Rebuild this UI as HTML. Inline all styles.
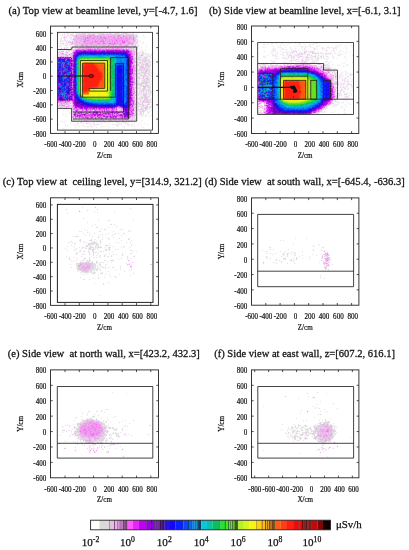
<!DOCTYPE html><html><head><meta charset="utf-8"><title>figure</title><style>html,body{margin:0;padding:0;background:#fff}svg{display:block}</style></head><body><svg width="409" height="550" viewBox="0 0 409 550" font-family="Liberation Serif, serif" fill="#111">
<defs>
<filter id="b04" x="-30%" y="-30%" width="160%" height="160%" color-interpolation-filters="sRGB"><feGaussianBlur stdDeviation="0.4"/></filter>
<filter id="b07" x="-30%" y="-30%" width="160%" height="160%" color-interpolation-filters="sRGB"><feGaussianBlur stdDeviation="0.85"/></filter>
<filter id="b1" x="-30%" y="-30%" width="160%" height="160%" color-interpolation-filters="sRGB"><feGaussianBlur stdDeviation="1.0"/></filter>
<filter id="b15" x="-30%" y="-30%" width="160%" height="160%" color-interpolation-filters="sRGB"><feGaussianBlur stdDeviation="1.5"/></filter>
<filter id="b2" x="-30%" y="-30%" width="160%" height="160%" color-interpolation-filters="sRGB"><feGaussianBlur stdDeviation="2.0"/></filter>
<filter id="b3" x="-30%" y="-30%" width="160%" height="160%" color-interpolation-filters="sRGB"><feGaussianBlur stdDeviation="3.0"/></filter>
<filter id="ha" filterUnits="userSpaceOnUse" x="50" y="26" width="109" height="108" color-interpolation-filters="sRGB"><feColorMatrix in="SourceGraphic" type="matrix" values="1 0 0 0 0  1 0 0 0 0  1 0 0 0 0  0 0 0 0 1" result="A"/><feColorMatrix in="SourceGraphic" type="matrix" values="0 1 0 0 0  0 1 0 0 0  0 1 0 0 0  0 0 0 0 1" result="M"/><feTurbulence type="fractalNoise" baseFrequency="0.9" numOctaves="3" seed="3" result="T"/><feColorMatrix in="T" type="matrix" values="2.2 0 0 0 -0.6  2.2 0 0 0 -0.6  2.2 0 0 0 -0.6  0 0 0 0 1" result="N"/><feComposite in="M" in2="N" operator="arithmetic" k1="1" k2="0" k3="0" k4="0" result="Q"/><feComposite in="A" in2="Q" operator="arithmetic" k1="0" k2="1" k3="1" k4="-0.15" result="F"/><feComponentTransfer in="F" result="C"><feFuncR type="discrete" tableValues="1.000 1.000 1.000 1.000 1.000 0.863 0.863 0.863 0.863 0.863 0.902 0.902 0.902 0.925 0.925 0.925 0.933 0.933 0.933 0.933 1.000 1.000 1.000 0.933 0.933 0.933 0.769 0.769 0.769 0.769 0.604 0.604 0.604 0.478 0.478 0.478 0.353 0.353 0.353 0.353 0.165 0.165 0.165 0.078 0.078 0.078 0.039 0.039 0.039 0.039 0.039 0.039 0.039 0.031 0.031 0.031 0.031 0.031 0.031 0.031 0.031 0.031 0.031 0.024 0.024 0.024 0.031 0.031 0.031 0.031 0.157 0.157 0.157 0.345 0.345 0.345 0.502 0.502 0.502 0.502 0.722 0.722 0.722 0.847 0.847 0.847 0.973 0.973 0.973 0.973 1.000 1.000 1.000 0.973 0.973 0.973 0.878 0.878 0.878 0.878 1.000 1.000 1.000 1.000 1.000 1.000 1.000 1.000 1.000 1.000 0.941 0.941 0.941 0.784 0.784 0.784 0.565 0.565 0.565 0.565 0.439 0.439 0.439 0.251 0.251 0.251 0.063 0.063 0.063 0.063"/><feFuncG type="discrete" tableValues="1.000 1.000 1.000 1.000 1.000 0.863 0.863 0.863 0.863 0.863 0.796 0.796 0.796 0.706 0.706 0.706 0.612 0.612 0.612 0.612 0.345 0.345 0.345 0.133 0.133 0.133 0.000 0.000 0.000 0.000 0.000 0.000 0.000 0.000 0.000 0.000 0.000 0.000 0.000 0.000 0.063 0.063 0.063 0.031 0.031 0.031 0.125 0.125 0.125 0.125 0.282 0.282 0.282 0.471 0.471 0.471 0.627 0.627 0.627 0.627 0.784 0.784 0.784 0.753 0.753 0.753 0.753 0.753 0.753 0.753 0.878 0.878 0.878 0.910 0.910 0.910 0.847 0.847 0.847 0.847 0.941 0.941 0.941 0.957 0.957 0.957 0.957 0.957 0.957 0.957 0.816 0.816 0.816 0.659 0.659 0.659 0.533 0.533 0.533 0.533 0.353 0.353 0.353 0.251 0.251 0.251 0.125 0.125 0.125 0.125 0.031 0.031 0.031 0.031 0.031 0.031 0.031 0.031 0.031 0.031 0.024 0.024 0.024 0.016 0.016 0.016 0.000 0.000 0.000 0.000"/><feFuncB type="discrete" tableValues="1.000 1.000 1.000 1.000 1.000 0.863 0.863 0.863 0.863 0.863 0.902 0.902 0.902 0.925 0.925 0.925 0.933 0.933 0.933 0.933 1.000 1.000 1.000 0.965 0.965 0.965 0.957 0.957 0.957 0.957 0.910 0.910 0.910 0.784 0.784 0.784 0.627 0.627 0.627 0.627 0.878 0.878 0.878 0.957 0.957 0.957 1.000 1.000 1.000 1.000 0.941 0.941 0.941 0.973 0.973 0.973 0.910 0.910 0.910 0.910 0.847 0.847 0.847 0.690 0.690 0.690 0.376 0.376 0.376 0.376 0.188 0.188 0.188 0.125 0.125 0.125 0.125 0.125 0.125 0.125 0.157 0.157 0.157 0.125 0.125 0.125 0.094 0.094 0.094 0.094 0.063 0.063 0.063 0.063 0.063 0.063 0.063 0.063 0.063 0.063 0.063 0.063 0.063 0.063 0.063 0.063 0.063 0.063 0.063 0.063 0.031 0.031 0.031 0.031 0.031 0.031 0.031 0.031 0.031 0.031 0.024 0.024 0.024 0.016 0.016 0.016 0.000 0.000 0.000 0.000"/></feComponentTransfer><feConvolveMatrix in="C" order="3" kernelMatrix="0.019 0.1 0.019 0.1 0.524 0.1 0.019 0.1 0.019" edgeMode="duplicate" preserveAlpha="true"/></filter>
<filter id="hb" filterUnits="userSpaceOnUse" x="251" y="26" width="108" height="107" color-interpolation-filters="sRGB"><feColorMatrix in="SourceGraphic" type="matrix" values="1 0 0 0 0  1 0 0 0 0  1 0 0 0 0  0 0 0 0 1" result="A"/><feColorMatrix in="SourceGraphic" type="matrix" values="0 1 0 0 0  0 1 0 0 0  0 1 0 0 0  0 0 0 0 1" result="M"/><feTurbulence type="fractalNoise" baseFrequency="0.9" numOctaves="3" seed="5" result="T"/><feColorMatrix in="T" type="matrix" values="2.2 0 0 0 -0.6  2.2 0 0 0 -0.6  2.2 0 0 0 -0.6  0 0 0 0 1" result="N"/><feComposite in="M" in2="N" operator="arithmetic" k1="1" k2="0" k3="0" k4="0" result="Q"/><feComposite in="A" in2="Q" operator="arithmetic" k1="0" k2="1" k3="1" k4="-0.15" result="F"/><feComponentTransfer in="F" result="C"><feFuncR type="discrete" tableValues="1.000 1.000 1.000 1.000 1.000 0.863 0.863 0.863 0.863 0.863 0.902 0.902 0.902 0.925 0.925 0.925 0.933 0.933 0.933 0.933 1.000 1.000 1.000 0.933 0.933 0.933 0.769 0.769 0.769 0.769 0.604 0.604 0.604 0.478 0.478 0.478 0.353 0.353 0.353 0.353 0.165 0.165 0.165 0.078 0.078 0.078 0.039 0.039 0.039 0.039 0.039 0.039 0.039 0.031 0.031 0.031 0.031 0.031 0.031 0.031 0.031 0.031 0.031 0.024 0.024 0.024 0.031 0.031 0.031 0.031 0.157 0.157 0.157 0.345 0.345 0.345 0.502 0.502 0.502 0.502 0.722 0.722 0.722 0.847 0.847 0.847 0.973 0.973 0.973 0.973 1.000 1.000 1.000 0.973 0.973 0.973 0.878 0.878 0.878 0.878 1.000 1.000 1.000 1.000 1.000 1.000 1.000 1.000 1.000 1.000 0.941 0.941 0.941 0.784 0.784 0.784 0.565 0.565 0.565 0.565 0.439 0.439 0.439 0.251 0.251 0.251 0.063 0.063 0.063 0.063"/><feFuncG type="discrete" tableValues="1.000 1.000 1.000 1.000 1.000 0.863 0.863 0.863 0.863 0.863 0.796 0.796 0.796 0.706 0.706 0.706 0.612 0.612 0.612 0.612 0.345 0.345 0.345 0.133 0.133 0.133 0.000 0.000 0.000 0.000 0.000 0.000 0.000 0.000 0.000 0.000 0.000 0.000 0.000 0.000 0.063 0.063 0.063 0.031 0.031 0.031 0.125 0.125 0.125 0.125 0.282 0.282 0.282 0.471 0.471 0.471 0.627 0.627 0.627 0.627 0.784 0.784 0.784 0.753 0.753 0.753 0.753 0.753 0.753 0.753 0.878 0.878 0.878 0.910 0.910 0.910 0.847 0.847 0.847 0.847 0.941 0.941 0.941 0.957 0.957 0.957 0.957 0.957 0.957 0.957 0.816 0.816 0.816 0.659 0.659 0.659 0.533 0.533 0.533 0.533 0.353 0.353 0.353 0.251 0.251 0.251 0.125 0.125 0.125 0.125 0.031 0.031 0.031 0.031 0.031 0.031 0.031 0.031 0.031 0.031 0.024 0.024 0.024 0.016 0.016 0.016 0.000 0.000 0.000 0.000"/><feFuncB type="discrete" tableValues="1.000 1.000 1.000 1.000 1.000 0.863 0.863 0.863 0.863 0.863 0.902 0.902 0.902 0.925 0.925 0.925 0.933 0.933 0.933 0.933 1.000 1.000 1.000 0.965 0.965 0.965 0.957 0.957 0.957 0.957 0.910 0.910 0.910 0.784 0.784 0.784 0.627 0.627 0.627 0.627 0.878 0.878 0.878 0.957 0.957 0.957 1.000 1.000 1.000 1.000 0.941 0.941 0.941 0.973 0.973 0.973 0.910 0.910 0.910 0.910 0.847 0.847 0.847 0.690 0.690 0.690 0.376 0.376 0.376 0.376 0.188 0.188 0.188 0.125 0.125 0.125 0.125 0.125 0.125 0.125 0.157 0.157 0.157 0.125 0.125 0.125 0.094 0.094 0.094 0.094 0.063 0.063 0.063 0.063 0.063 0.063 0.063 0.063 0.063 0.063 0.063 0.063 0.063 0.063 0.063 0.063 0.063 0.063 0.063 0.063 0.031 0.031 0.031 0.031 0.031 0.031 0.031 0.031 0.031 0.031 0.024 0.024 0.024 0.016 0.016 0.016 0.000 0.000 0.000 0.000"/></feComponentTransfer><feConvolveMatrix in="C" order="3" kernelMatrix="0.019 0.1 0.019 0.1 0.524 0.1 0.019 0.1 0.019" edgeMode="duplicate" preserveAlpha="true"/></filter>
<filter id="sc" filterUnits="userSpaceOnUse" x="50" y="198" width="109" height="108" color-interpolation-filters="sRGB"><feColorMatrix in="SourceGraphic" type="matrix" values="1 0 0 0 0  1 0 0 0 0  1 0 0 0 0  0 0 0 0 1" result="A"/><feColorMatrix in="SourceGraphic" type="matrix" values="0 1 0 0 0  0 1 0 0 0  0 1 0 0 0  0 0 0 0 1" result="M"/><feTurbulence type="fractalNoise" baseFrequency="0.55" numOctaves="2" seed="11" result="T"/><feColorMatrix in="T" type="matrix" values="3.0 0 0 0 -1.2  3.0 0 0 0 -1.2  3.0 0 0 0 -1.2  0 0 0 0 1" result="N"/><feComposite in="M" in2="N" operator="arithmetic" k1="1" k2="0" k3="0" k4="0" result="Q"/><feComposite in="A" in2="Q" operator="arithmetic" k1="0" k2="1" k3="1" k4="-0.15" result="F"/><feComponentTransfer in="F" result="C"><feFuncR type="discrete" tableValues="1.000 1.000 1.000 1.000 1.000 0.863 0.863 0.863 0.863 0.863 0.902 0.902 0.902 0.925 0.925 0.925 0.933 0.933 0.933 0.933 1.000 1.000 1.000 0.933 0.933 0.933 0.769 0.769 0.769 0.769 0.604 0.604 0.604 0.478 0.478 0.478 0.353 0.353 0.353 0.353 0.165 0.165 0.165 0.078 0.078 0.078 0.039 0.039 0.039 0.039 0.039 0.039 0.039 0.031 0.031 0.031 0.031 0.031 0.031 0.031 0.031 0.031 0.031 0.024 0.024 0.024 0.031 0.031 0.031 0.031 0.157 0.157 0.157 0.345 0.345 0.345 0.502 0.502 0.502 0.502 0.722 0.722 0.722 0.847 0.847 0.847 0.973 0.973 0.973 0.973 1.000 1.000 1.000 0.973 0.973 0.973 0.878 0.878 0.878 0.878 1.000 1.000 1.000 1.000 1.000 1.000 1.000 1.000 1.000 1.000 0.941 0.941 0.941 0.784 0.784 0.784 0.565 0.565 0.565 0.565 0.439 0.439 0.439 0.251 0.251 0.251 0.063 0.063 0.063 0.063"/><feFuncG type="discrete" tableValues="1.000 1.000 1.000 1.000 1.000 0.863 0.863 0.863 0.863 0.863 0.796 0.796 0.796 0.706 0.706 0.706 0.612 0.612 0.612 0.612 0.345 0.345 0.345 0.133 0.133 0.133 0.000 0.000 0.000 0.000 0.000 0.000 0.000 0.000 0.000 0.000 0.000 0.000 0.000 0.000 0.063 0.063 0.063 0.031 0.031 0.031 0.125 0.125 0.125 0.125 0.282 0.282 0.282 0.471 0.471 0.471 0.627 0.627 0.627 0.627 0.784 0.784 0.784 0.753 0.753 0.753 0.753 0.753 0.753 0.753 0.878 0.878 0.878 0.910 0.910 0.910 0.847 0.847 0.847 0.847 0.941 0.941 0.941 0.957 0.957 0.957 0.957 0.957 0.957 0.957 0.816 0.816 0.816 0.659 0.659 0.659 0.533 0.533 0.533 0.533 0.353 0.353 0.353 0.251 0.251 0.251 0.125 0.125 0.125 0.125 0.031 0.031 0.031 0.031 0.031 0.031 0.031 0.031 0.031 0.031 0.024 0.024 0.024 0.016 0.016 0.016 0.000 0.000 0.000 0.000"/><feFuncB type="discrete" tableValues="1.000 1.000 1.000 1.000 1.000 0.863 0.863 0.863 0.863 0.863 0.902 0.902 0.902 0.925 0.925 0.925 0.933 0.933 0.933 0.933 1.000 1.000 1.000 0.965 0.965 0.965 0.957 0.957 0.957 0.957 0.910 0.910 0.910 0.784 0.784 0.784 0.627 0.627 0.627 0.627 0.878 0.878 0.878 0.957 0.957 0.957 1.000 1.000 1.000 1.000 0.941 0.941 0.941 0.973 0.973 0.973 0.910 0.910 0.910 0.910 0.847 0.847 0.847 0.690 0.690 0.690 0.376 0.376 0.376 0.376 0.188 0.188 0.188 0.125 0.125 0.125 0.125 0.125 0.125 0.125 0.157 0.157 0.157 0.125 0.125 0.125 0.094 0.094 0.094 0.094 0.063 0.063 0.063 0.063 0.063 0.063 0.063 0.063 0.063 0.063 0.063 0.063 0.063 0.063 0.063 0.063 0.063 0.063 0.063 0.063 0.031 0.031 0.031 0.031 0.031 0.031 0.031 0.031 0.031 0.031 0.024 0.024 0.024 0.016 0.016 0.016 0.000 0.000 0.000 0.000"/></feComponentTransfer><feConvolveMatrix in="C" order="3" kernelMatrix="0.012 0.07 0.012 0.07 0.672 0.07 0.012 0.07 0.012" edgeMode="duplicate" preserveAlpha="true"/></filter>
<filter id="sd" filterUnits="userSpaceOnUse" x="251" y="198" width="108" height="108" color-interpolation-filters="sRGB"><feColorMatrix in="SourceGraphic" type="matrix" values="1 0 0 0 0  1 0 0 0 0  1 0 0 0 0  0 0 0 0 1" result="A"/><feColorMatrix in="SourceGraphic" type="matrix" values="0 1 0 0 0  0 1 0 0 0  0 1 0 0 0  0 0 0 0 1" result="M"/><feTurbulence type="fractalNoise" baseFrequency="0.55" numOctaves="2" seed="12" result="T"/><feColorMatrix in="T" type="matrix" values="3.0 0 0 0 -1.2  3.0 0 0 0 -1.2  3.0 0 0 0 -1.2  0 0 0 0 1" result="N"/><feComposite in="M" in2="N" operator="arithmetic" k1="1" k2="0" k3="0" k4="0" result="Q"/><feComposite in="A" in2="Q" operator="arithmetic" k1="0" k2="1" k3="1" k4="-0.15" result="F"/><feComponentTransfer in="F" result="C"><feFuncR type="discrete" tableValues="1.000 1.000 1.000 1.000 1.000 0.863 0.863 0.863 0.863 0.863 0.902 0.902 0.902 0.925 0.925 0.925 0.933 0.933 0.933 0.933 1.000 1.000 1.000 0.933 0.933 0.933 0.769 0.769 0.769 0.769 0.604 0.604 0.604 0.478 0.478 0.478 0.353 0.353 0.353 0.353 0.165 0.165 0.165 0.078 0.078 0.078 0.039 0.039 0.039 0.039 0.039 0.039 0.039 0.031 0.031 0.031 0.031 0.031 0.031 0.031 0.031 0.031 0.031 0.024 0.024 0.024 0.031 0.031 0.031 0.031 0.157 0.157 0.157 0.345 0.345 0.345 0.502 0.502 0.502 0.502 0.722 0.722 0.722 0.847 0.847 0.847 0.973 0.973 0.973 0.973 1.000 1.000 1.000 0.973 0.973 0.973 0.878 0.878 0.878 0.878 1.000 1.000 1.000 1.000 1.000 1.000 1.000 1.000 1.000 1.000 0.941 0.941 0.941 0.784 0.784 0.784 0.565 0.565 0.565 0.565 0.439 0.439 0.439 0.251 0.251 0.251 0.063 0.063 0.063 0.063"/><feFuncG type="discrete" tableValues="1.000 1.000 1.000 1.000 1.000 0.863 0.863 0.863 0.863 0.863 0.796 0.796 0.796 0.706 0.706 0.706 0.612 0.612 0.612 0.612 0.345 0.345 0.345 0.133 0.133 0.133 0.000 0.000 0.000 0.000 0.000 0.000 0.000 0.000 0.000 0.000 0.000 0.000 0.000 0.000 0.063 0.063 0.063 0.031 0.031 0.031 0.125 0.125 0.125 0.125 0.282 0.282 0.282 0.471 0.471 0.471 0.627 0.627 0.627 0.627 0.784 0.784 0.784 0.753 0.753 0.753 0.753 0.753 0.753 0.753 0.878 0.878 0.878 0.910 0.910 0.910 0.847 0.847 0.847 0.847 0.941 0.941 0.941 0.957 0.957 0.957 0.957 0.957 0.957 0.957 0.816 0.816 0.816 0.659 0.659 0.659 0.533 0.533 0.533 0.533 0.353 0.353 0.353 0.251 0.251 0.251 0.125 0.125 0.125 0.125 0.031 0.031 0.031 0.031 0.031 0.031 0.031 0.031 0.031 0.031 0.024 0.024 0.024 0.016 0.016 0.016 0.000 0.000 0.000 0.000"/><feFuncB type="discrete" tableValues="1.000 1.000 1.000 1.000 1.000 0.863 0.863 0.863 0.863 0.863 0.902 0.902 0.902 0.925 0.925 0.925 0.933 0.933 0.933 0.933 1.000 1.000 1.000 0.965 0.965 0.965 0.957 0.957 0.957 0.957 0.910 0.910 0.910 0.784 0.784 0.784 0.627 0.627 0.627 0.627 0.878 0.878 0.878 0.957 0.957 0.957 1.000 1.000 1.000 1.000 0.941 0.941 0.941 0.973 0.973 0.973 0.910 0.910 0.910 0.910 0.847 0.847 0.847 0.690 0.690 0.690 0.376 0.376 0.376 0.376 0.188 0.188 0.188 0.125 0.125 0.125 0.125 0.125 0.125 0.125 0.157 0.157 0.157 0.125 0.125 0.125 0.094 0.094 0.094 0.094 0.063 0.063 0.063 0.063 0.063 0.063 0.063 0.063 0.063 0.063 0.063 0.063 0.063 0.063 0.063 0.063 0.063 0.063 0.063 0.063 0.031 0.031 0.031 0.031 0.031 0.031 0.031 0.031 0.031 0.031 0.024 0.024 0.024 0.016 0.016 0.016 0.000 0.000 0.000 0.000"/></feComponentTransfer><feConvolveMatrix in="C" order="3" kernelMatrix="0.012 0.07 0.012 0.07 0.672 0.07 0.012 0.07 0.012" edgeMode="duplicate" preserveAlpha="true"/></filter>
<filter id="se" filterUnits="userSpaceOnUse" x="50" y="369" width="109" height="110" color-interpolation-filters="sRGB"><feColorMatrix in="SourceGraphic" type="matrix" values="1 0 0 0 0  1 0 0 0 0  1 0 0 0 0  0 0 0 0 1" result="A"/><feColorMatrix in="SourceGraphic" type="matrix" values="0 1 0 0 0  0 1 0 0 0  0 1 0 0 0  0 0 0 0 1" result="M"/><feTurbulence type="fractalNoise" baseFrequency="0.55" numOctaves="2" seed="13" result="T"/><feColorMatrix in="T" type="matrix" values="3.0 0 0 0 -1.2  3.0 0 0 0 -1.2  3.0 0 0 0 -1.2  0 0 0 0 1" result="N"/><feComposite in="M" in2="N" operator="arithmetic" k1="1" k2="0" k3="0" k4="0" result="Q"/><feComposite in="A" in2="Q" operator="arithmetic" k1="0" k2="1" k3="1" k4="-0.15" result="F"/><feComponentTransfer in="F" result="C"><feFuncR type="discrete" tableValues="1.000 1.000 1.000 1.000 1.000 0.863 0.863 0.863 0.863 0.863 0.902 0.902 0.902 0.925 0.925 0.925 0.933 0.933 0.933 0.933 1.000 1.000 1.000 0.933 0.933 0.933 0.769 0.769 0.769 0.769 0.604 0.604 0.604 0.478 0.478 0.478 0.353 0.353 0.353 0.353 0.165 0.165 0.165 0.078 0.078 0.078 0.039 0.039 0.039 0.039 0.039 0.039 0.039 0.031 0.031 0.031 0.031 0.031 0.031 0.031 0.031 0.031 0.031 0.024 0.024 0.024 0.031 0.031 0.031 0.031 0.157 0.157 0.157 0.345 0.345 0.345 0.502 0.502 0.502 0.502 0.722 0.722 0.722 0.847 0.847 0.847 0.973 0.973 0.973 0.973 1.000 1.000 1.000 0.973 0.973 0.973 0.878 0.878 0.878 0.878 1.000 1.000 1.000 1.000 1.000 1.000 1.000 1.000 1.000 1.000 0.941 0.941 0.941 0.784 0.784 0.784 0.565 0.565 0.565 0.565 0.439 0.439 0.439 0.251 0.251 0.251 0.063 0.063 0.063 0.063"/><feFuncG type="discrete" tableValues="1.000 1.000 1.000 1.000 1.000 0.863 0.863 0.863 0.863 0.863 0.796 0.796 0.796 0.706 0.706 0.706 0.612 0.612 0.612 0.612 0.345 0.345 0.345 0.133 0.133 0.133 0.000 0.000 0.000 0.000 0.000 0.000 0.000 0.000 0.000 0.000 0.000 0.000 0.000 0.000 0.063 0.063 0.063 0.031 0.031 0.031 0.125 0.125 0.125 0.125 0.282 0.282 0.282 0.471 0.471 0.471 0.627 0.627 0.627 0.627 0.784 0.784 0.784 0.753 0.753 0.753 0.753 0.753 0.753 0.753 0.878 0.878 0.878 0.910 0.910 0.910 0.847 0.847 0.847 0.847 0.941 0.941 0.941 0.957 0.957 0.957 0.957 0.957 0.957 0.957 0.816 0.816 0.816 0.659 0.659 0.659 0.533 0.533 0.533 0.533 0.353 0.353 0.353 0.251 0.251 0.251 0.125 0.125 0.125 0.125 0.031 0.031 0.031 0.031 0.031 0.031 0.031 0.031 0.031 0.031 0.024 0.024 0.024 0.016 0.016 0.016 0.000 0.000 0.000 0.000"/><feFuncB type="discrete" tableValues="1.000 1.000 1.000 1.000 1.000 0.863 0.863 0.863 0.863 0.863 0.902 0.902 0.902 0.925 0.925 0.925 0.933 0.933 0.933 0.933 1.000 1.000 1.000 0.965 0.965 0.965 0.957 0.957 0.957 0.957 0.910 0.910 0.910 0.784 0.784 0.784 0.627 0.627 0.627 0.627 0.878 0.878 0.878 0.957 0.957 0.957 1.000 1.000 1.000 1.000 0.941 0.941 0.941 0.973 0.973 0.973 0.910 0.910 0.910 0.910 0.847 0.847 0.847 0.690 0.690 0.690 0.376 0.376 0.376 0.376 0.188 0.188 0.188 0.125 0.125 0.125 0.125 0.125 0.125 0.125 0.157 0.157 0.157 0.125 0.125 0.125 0.094 0.094 0.094 0.094 0.063 0.063 0.063 0.063 0.063 0.063 0.063 0.063 0.063 0.063 0.063 0.063 0.063 0.063 0.063 0.063 0.063 0.063 0.063 0.063 0.031 0.031 0.031 0.031 0.031 0.031 0.031 0.031 0.031 0.031 0.024 0.024 0.024 0.016 0.016 0.016 0.000 0.000 0.000 0.000"/></feComponentTransfer><feConvolveMatrix in="C" order="3" kernelMatrix="0.012 0.07 0.012 0.07 0.672 0.07 0.012 0.07 0.012" edgeMode="duplicate" preserveAlpha="true"/></filter>
<filter id="sf" filterUnits="userSpaceOnUse" x="251" y="369" width="108" height="110" color-interpolation-filters="sRGB"><feColorMatrix in="SourceGraphic" type="matrix" values="1 0 0 0 0  1 0 0 0 0  1 0 0 0 0  0 0 0 0 1" result="A"/><feColorMatrix in="SourceGraphic" type="matrix" values="0 1 0 0 0  0 1 0 0 0  0 1 0 0 0  0 0 0 0 1" result="M"/><feTurbulence type="fractalNoise" baseFrequency="0.55" numOctaves="2" seed="14" result="T"/><feColorMatrix in="T" type="matrix" values="3.0 0 0 0 -1.2  3.0 0 0 0 -1.2  3.0 0 0 0 -1.2  0 0 0 0 1" result="N"/><feComposite in="M" in2="N" operator="arithmetic" k1="1" k2="0" k3="0" k4="0" result="Q"/><feComposite in="A" in2="Q" operator="arithmetic" k1="0" k2="1" k3="1" k4="-0.15" result="F"/><feComponentTransfer in="F" result="C"><feFuncR type="discrete" tableValues="1.000 1.000 1.000 1.000 1.000 0.863 0.863 0.863 0.863 0.863 0.902 0.902 0.902 0.925 0.925 0.925 0.933 0.933 0.933 0.933 1.000 1.000 1.000 0.933 0.933 0.933 0.769 0.769 0.769 0.769 0.604 0.604 0.604 0.478 0.478 0.478 0.353 0.353 0.353 0.353 0.165 0.165 0.165 0.078 0.078 0.078 0.039 0.039 0.039 0.039 0.039 0.039 0.039 0.031 0.031 0.031 0.031 0.031 0.031 0.031 0.031 0.031 0.031 0.024 0.024 0.024 0.031 0.031 0.031 0.031 0.157 0.157 0.157 0.345 0.345 0.345 0.502 0.502 0.502 0.502 0.722 0.722 0.722 0.847 0.847 0.847 0.973 0.973 0.973 0.973 1.000 1.000 1.000 0.973 0.973 0.973 0.878 0.878 0.878 0.878 1.000 1.000 1.000 1.000 1.000 1.000 1.000 1.000 1.000 1.000 0.941 0.941 0.941 0.784 0.784 0.784 0.565 0.565 0.565 0.565 0.439 0.439 0.439 0.251 0.251 0.251 0.063 0.063 0.063 0.063"/><feFuncG type="discrete" tableValues="1.000 1.000 1.000 1.000 1.000 0.863 0.863 0.863 0.863 0.863 0.796 0.796 0.796 0.706 0.706 0.706 0.612 0.612 0.612 0.612 0.345 0.345 0.345 0.133 0.133 0.133 0.000 0.000 0.000 0.000 0.000 0.000 0.000 0.000 0.000 0.000 0.000 0.000 0.000 0.000 0.063 0.063 0.063 0.031 0.031 0.031 0.125 0.125 0.125 0.125 0.282 0.282 0.282 0.471 0.471 0.471 0.627 0.627 0.627 0.627 0.784 0.784 0.784 0.753 0.753 0.753 0.753 0.753 0.753 0.753 0.878 0.878 0.878 0.910 0.910 0.910 0.847 0.847 0.847 0.847 0.941 0.941 0.941 0.957 0.957 0.957 0.957 0.957 0.957 0.957 0.816 0.816 0.816 0.659 0.659 0.659 0.533 0.533 0.533 0.533 0.353 0.353 0.353 0.251 0.251 0.251 0.125 0.125 0.125 0.125 0.031 0.031 0.031 0.031 0.031 0.031 0.031 0.031 0.031 0.031 0.024 0.024 0.024 0.016 0.016 0.016 0.000 0.000 0.000 0.000"/><feFuncB type="discrete" tableValues="1.000 1.000 1.000 1.000 1.000 0.863 0.863 0.863 0.863 0.863 0.902 0.902 0.902 0.925 0.925 0.925 0.933 0.933 0.933 0.933 1.000 1.000 1.000 0.965 0.965 0.965 0.957 0.957 0.957 0.957 0.910 0.910 0.910 0.784 0.784 0.784 0.627 0.627 0.627 0.627 0.878 0.878 0.878 0.957 0.957 0.957 1.000 1.000 1.000 1.000 0.941 0.941 0.941 0.973 0.973 0.973 0.910 0.910 0.910 0.910 0.847 0.847 0.847 0.690 0.690 0.690 0.376 0.376 0.376 0.376 0.188 0.188 0.188 0.125 0.125 0.125 0.125 0.125 0.125 0.125 0.157 0.157 0.157 0.125 0.125 0.125 0.094 0.094 0.094 0.094 0.063 0.063 0.063 0.063 0.063 0.063 0.063 0.063 0.063 0.063 0.063 0.063 0.063 0.063 0.063 0.063 0.063 0.063 0.063 0.063 0.031 0.031 0.031 0.031 0.031 0.031 0.031 0.031 0.031 0.031 0.024 0.024 0.024 0.016 0.016 0.016 0.000 0.000 0.000 0.000"/></feComponentTransfer><feConvolveMatrix in="C" order="3" kernelMatrix="0.012 0.07 0.012 0.07 0.672 0.07 0.012 0.07 0.012" edgeMode="duplicate" preserveAlpha="true"/></filter>
</defs>
<rect width="409" height="550" fill="#fff"/>
<text x="8.5" y="14.0" font-size="11.3" textLength="189.0" lengthAdjust="spacingAndGlyphs" xml:space="preserve" stroke="#111" stroke-width="0.28">(a) Top view at beamline level, y=[-4.7, 1.6]</text>
<text x="209.0" y="14.0" font-size="11.3" textLength="191.5" lengthAdjust="spacingAndGlyphs" xml:space="preserve" stroke="#111" stroke-width="0.28">(b) Side view at beamline level, x=[-6.1, 3.1]</text>
<text x="2.8000000000000003" y="185.4" font-size="11.3" textLength="198.9" lengthAdjust="spacingAndGlyphs" xml:space="preserve" stroke="#111" stroke-width="0.28">(c) Top view at  ceiling level, y=[314.9, 321.2]</text>
<text x="204.7" y="185.4" font-size="11.3" textLength="200.1" lengthAdjust="spacingAndGlyphs" xml:space="preserve" stroke="#111" stroke-width="0.28">(d) Side view  at south wall, x=[-645.4, -636.3]</text>
<text x="7.699999999999999" y="357.0" font-size="11.3" textLength="192.2" lengthAdjust="spacingAndGlyphs" xml:space="preserve" stroke="#111" stroke-width="0.28">(e) Side view  at north wall, x=[423.2, 432.3]</text>
<text x="214.2" y="357.0" font-size="11.3" textLength="180.9" lengthAdjust="spacingAndGlyphs" xml:space="preserve" stroke="#111" stroke-width="0.28">(f) Side view at east wall, z=[607.2, 616.1]</text>
<g id="pa">
<clipPath id="ca"><rect x="57.8" y="32.7" width="94.3" height="97.1"/></clipPath>
<g clip-path="url(#ca)"><g filter="url(#ha)">
<rect x="50" y="26" width="110.00" height="109.00" fill="rgb(0,51,0)" />
<g filter="url(#b2)">
<path d="M71 33H138V48H69z" fill="rgb(48,33,0)" />
<path d="M82 33H131V48H80z" fill="rgb(59,26,0)" />
<path d="M137 50L152 56V110L137 119z" fill="rgb(36,36,0)" />
<path d="M57 50H72V57H57z" fill="rgb(34,56,0)" />
<path d="M57 100H72V108H57z" fill="rgb(40,56,0)" />
<path d="M73 121H136V126H73z" fill="rgb(12,56,0)" />
<path d="M58 33H72V48H58z" fill="rgb(2,76,0)" />
</g>
<g filter="url(#b1)">
<rect x="72" y="47.4" width="64.40" height="73.60" fill="rgb(41,41,0)" />
<path d="M72.4 54Q73 49 80 49H126Q133.6 49 133.6 57V112Q133.4 118.4 128 118.4H73.4V101L57 103V99H72.4z" fill="rgb(64,36,0)" />
</g>
<g filter="url(#b07)">
<path d="M79.0 50.0H126.0Q132.0 50.0 132.0 56.0V103.6Q132.0 109.6 126.0 109.6H79.0Q73.0 109.6 73.0 103.6V56.0Q73.0 50.0 79.0 50.0z" fill="rgb(73,36,0)" />
<rect x="73.6" y="109.8" width="49.80" height="2.40" fill="rgb(29,76,0)" />
<rect x="73" y="118.8" width="63.00" height="2.20" fill="rgb(8,76,0)" />
<rect x="73.6" y="112.8" width="54.80" height="5.40" fill="rgb(61,51,0)" />
<rect x="123.8" y="100" width="4.60" height="18.00" fill="rgb(88,41,0)" />
<path d="M80.0 51.4H123.80000000000001Q129.8 51.4 129.8 57.4V101Q129.8 107 123.80000000000001 107H80.0Q74.0 107 74.0 101V57.4Q74.0 51.4 80.0 51.4z" fill="rgb(94,26,0)" />
<rect x="57" y="57.8" width="14.40" height="42.00" fill="rgb(86,82,0)" />
<path d="M74.8 60Q74.8 52.8 82 52.8H122Q128.4 52.8 128.4 60V108L123.6 107.4 100 106.6Q76 106 74.8 92z" fill="rgb(123,15,0)" />
<path d="M75.8 60Q75.8 54.4 82 54.4H122Q127.4 54.4 127.4 60V104H100Q77 103.6 75.8 91z" fill="rgb(140,13,0)" />
<ellipse cx="119" cy="108.8" rx="3.2" ry="2.2" fill="rgb(16,76,0)" />
<path d="M77.2 60Q77.2 56.4 81 56.4H115.2V102.2H96Q78.5 101 77.2 90z" fill="rgb(157,10,0)" />
<path d="M78.4 60Q78.4 57.6 81 57.6H110.4V100.2H94Q80 99 78.4 90z" fill="rgb(178,10,0)" />
<path d="M79.4 59.2H110.4V98.4H86Q80 97.4 79.4 92z" fill="rgb(195,8,0)" />
<path d="M80.3 60.5H107.5V97.2H84Q80.6 96.4 80.3 93z" fill="rgb(206,8,0)" />
<rect x="110.8" y="58" width="4.40" height="39.00" fill="rgb(167,10,0)" />
<rect x="116.4" y="64.6" width="6.20" height="41.40" fill="rgb(116,13,0)" />
</g>
<g filter="url(#b04)">
<path d="M82.8 63.4H104.6V88.2H89.1V94.6H82.8z" fill="rgb(235,5,0)" />
</g>
<g filter="url(#b07)">
<path d="M83 63.6H94.6Q98 70 102.6 74Q103.6 78 99 83L96 88H88.6L88 91.4 83 92z" fill="rgb(248,5,0)" />
</g>
</g></g>
<g fill="none" stroke="#1a1a1a" stroke-width="0.8">
<rect x="57.4" y="32.3" width="95" height="97.8"/>
<path d="M57.4 49.5H71.3L72.3 47H136.7V121.2H71.6V108.4H57.4"/>
<path d="M57.4 57.6H71.6V99.9H57.4" stroke-dasharray="1.6 0.8"/>
<path d="M89.1 88.4H104.8V63.2H82.6V97.2H115.4V63.6H123.5V112H73"/>
<path d="M89.1 91.1H107.5V60.5H80.4V97.2H82.6"/>
<path d="M110.6 90.8V57.6H128.6V119H73"/>
<path d="M89.1 88.4V91.1"/>
</g>
<path d="M57.4 76H89.2" stroke="#111" stroke-width="1.1"/>
<ellipse cx="91.2" cy="76" rx="2.4" ry="1.5" fill="#b81010" stroke="#111" stroke-width="0.8"/>
<rect x="50.5" y="26.1" width="107.90" height="107.30" fill="none" stroke="#222" stroke-width="0.9"/>
<text transform="translate(50.80 147.10) scale(0.915 1)" font-size="7.7" text-anchor="middle" stroke="#111" stroke-width="0.2" >-600</text>
<text transform="translate(65.10 147.10) scale(0.915 1)" font-size="7.7" text-anchor="middle" stroke="#111" stroke-width="0.2" >-400</text>
<text transform="translate(79.40 147.10) scale(0.915 1)" font-size="7.7" text-anchor="middle" stroke="#111" stroke-width="0.2" >-200</text>
<text transform="translate(94.70 147.10) scale(0.915 1)" font-size="7.7" text-anchor="middle" stroke="#111" stroke-width="0.2" >0</text>
<text transform="translate(109.00 147.10) scale(0.915 1)" font-size="7.7" text-anchor="middle" stroke="#111" stroke-width="0.2" >200</text>
<text transform="translate(123.30 147.10) scale(0.915 1)" font-size="7.7" text-anchor="middle" stroke="#111" stroke-width="0.2" >400</text>
<text transform="translate(137.60 147.10) scale(0.915 1)" font-size="7.7" text-anchor="middle" stroke="#111" stroke-width="0.2" >600</text>
<text transform="translate(151.90 147.10) scale(0.915 1)" font-size="7.7" text-anchor="middle" stroke="#111" stroke-width="0.2" >800</text>
<text transform="translate(46.20 36.50) scale(0.915 1)" font-size="7.7" text-anchor="end" stroke="#111" stroke-width="0.2" >600</text>
<text transform="translate(46.20 50.80) scale(0.915 1)" font-size="7.7" text-anchor="end" stroke="#111" stroke-width="0.2" >400</text>
<text transform="translate(46.20 65.10) scale(0.915 1)" font-size="7.7" text-anchor="end" stroke="#111" stroke-width="0.2" >200</text>
<text transform="translate(46.20 79.40) scale(0.915 1)" font-size="7.7" text-anchor="end" stroke="#111" stroke-width="0.2" >0</text>
<text transform="translate(46.20 93.70) scale(0.915 1)" font-size="7.7" text-anchor="end" stroke="#111" stroke-width="0.2" >-200</text>
<text transform="translate(46.20 108.00) scale(0.915 1)" font-size="7.7" text-anchor="end" stroke="#111" stroke-width="0.2" >-400</text>
<text transform="translate(46.20 122.30) scale(0.915 1)" font-size="7.7" text-anchor="end" stroke="#111" stroke-width="0.2" >-600</text>
<text transform="translate(46.20 136.60) scale(0.915 1)" font-size="7.7" text-anchor="end" stroke="#111" stroke-width="0.2" >-800</text>
<path d="M65.00 133.4v-2.2M65.00 26.1v2.2M79.30 133.4v-2.2M79.30 26.1v2.2M93.60 133.4v-2.2M93.60 26.1v2.2M107.90 133.4v-2.2M107.90 26.1v2.2M122.20 133.4v-2.2M122.20 26.1v2.2M136.50 133.4v-2.2M136.50 26.1v2.2M150.80 133.4v-2.2M150.80 26.1v2.2M50.5 33.30h2.2M158.4 33.30h-2.2M50.5 47.60h2.2M158.4 47.60h-2.2M50.5 61.90h2.2M158.4 61.90h-2.2M50.5 76.20h2.2M158.4 76.20h-2.2M50.5 90.50h2.2M158.4 90.50h-2.2M50.5 104.80h2.2M158.4 104.80h-2.2M50.5 119.10h2.2M158.4 119.10h-2.2" stroke="#222" stroke-width="0.8" fill="none"/>
<text transform="translate(104.45 157.80) scale(0.915 1)" font-size="7.7" text-anchor="middle" stroke="#111" stroke-width="0.2" >Z/cm</text>
<text transform="translate(23.10 79.75) rotate(-90) scale(0.915 1)" font-size="7.7" text-anchor="middle" stroke="#111" stroke-width="0.2">X/cm</text>
</g>
<g id="pb">
<clipPath id="cb"><rect x="258.1" y="42.9" width="95" height="71.3"/></clipPath>
<g clip-path="url(#cb)"><g filter="url(#hb)">
<rect x="251" y="26" width="109.00" height="108.00" fill="rgb(0,51,0)" />
<g filter="url(#b2)">
<ellipse cx="305" cy="53" rx="38" ry="9" fill="rgb(4,61,0)" />
<ellipse cx="304" cy="57" rx="17" ry="6" fill="rgb(14,61,0)" />
<path d="M300 64L324 64 337 72V99H330z" fill="rgb(34,51,0)" />
<path d="M338 72H353V99H338z" fill="rgb(8,61,0)" />
<path d="M258 100H340L318 114H258z" fill="rgb(34,51,0)" />
<path d="M258 64H290V70H258z" fill="rgb(34,51,0)" />
</g>
<g filter="url(#b1)">
<path d="M258 68L280 67Q290 64.4 302 64.2Q322 66 330.4 79Q335.6 89 334.4 99.2Q326 108 312 115H258z" fill="rgb(62,38,0)" />
</g>
<g filter="url(#b07)">
<path d="M258 70L282 68.6Q292 66.4 300 66.2Q320 68 328.8 80Q332.8 90 331.8 99.2Q324 107.6 308 114.8H262V100H258z" fill="rgb(76,33,0)" />
<path d="M258 71.6L284 70Q292 68.2 300 68.2Q318 69.8 326.8 81Q330.8 90 330.2 99.2Q322 108 306 114.8H272V100H258z" fill="rgb(94,26,0)" />
<rect x="258" y="73.6" width="14.20" height="25.40" fill="rgb(96,82,0)" />
<rect x="258" y="84" width="14.20" height="7.00" fill="rgb(105,87,0)" />
<path d="M258.4 102.6H266.5L265 113.6H258.4z" fill="rgb(2,76,0)" />
<path d="M272.8 80Q273.6 73 282 70.4H305Q320 72.2 327.2 82Q330.8 90 330.2 99.2L323.8 99.2Q321 107 308 112H283Q274 108 273 99z" fill="rgb(122,18,0)" />
<path d="M274 81Q274.8 74.4 282 71.6H306Q318 73.8 323.5 82V99.2Q319 106.6 306 110.4H284.6Q276 106.6 274.2 99z" fill="rgb(135,18,0)" />
<path d="M278.6 82Q278.8 75 283 73.4H307.8L316.2 76.8Q319.8 80 319.8 99.2Q313 106.2 300 107.2H288Q280 105 278.6 99z" fill="rgb(159,10,0)" />
<path d="M279.6 82Q279.8 76 283 75.2H307.8L316.6 79.8V99.2Q310 104.2 298 105H289Q282 103.6 279.6 99z" fill="rgb(178,10,0)" />
<path d="M280.2 78.4H308.6L310.6 80.4V99.2Q305 102.8 296 103.2H290Q283.4 102.4 280.2 99.2z" fill="rgb(195,8,0)" />
<path d="M280.8 77.4H307.7V99.2Q304 101.6 296 102H290Q284.2 101.6 280.8 99.2z" fill="rgb(206,8,0)" />
<rect x="311" y="80.5" width="5.50" height="18.60" fill="rgb(182,10,0)" />
<rect x="323.7" y="80.5" width="6.60" height="18.60" fill="rgb(122,13,0)" />
</g>
<rect x="283.8" y="80.5" width="21.80" height="18.60" fill="rgb(235,8,0)" />
<g filter="url(#b07)">
<path d="M284.2 81H299Q302 90 299 99H284.2z" fill="rgb(248,5,0)" />
</g>
</g></g>
<g fill="none" stroke="#222" stroke-width="0.8">
<rect x="257.7" y="42.6" width="95.7" height="71.9"/>
<path d="M257.7 99.2H353.4"/>
<path d="M257.7 63.5H323.5V70.1H337.5V99.2"/>
<path d="M257.7 73.4H272.4V99.2" stroke-dasharray="1.6 0.8"/>
<path d="M280.5 99.2V68.6H307.8V99.2M280.5 71.7H307.8M280.5 76.2H307.8"/>
<rect x="283.6" y="80.3" width="22.2" height="18.9"/>
<rect x="310.8" y="80.3" width="5.9" height="18.9"/>
<rect x="323.4" y="80.3" width="7.1" height="18.9"/>
</g>
<path d="M257.7 87.4H290" stroke="#111" stroke-width="1.1"/>
<path d="M289.6 86.2L294.5 85.4 296 88 297.6 91.4 295.6 93 292.8 92.4 293.4 89.6 291 88.8z" fill="#111"/>
<path d="M299 91.6l.8.6M293 96.6l1 .2" stroke="#111" stroke-width="0.8"/>
<rect x="251.5" y="26.0" width="107.30" height="107.45" fill="none" stroke="#222" stroke-width="0.9"/>
<text transform="translate(251.60 147.15) scale(0.915 1)" font-size="7.7" text-anchor="middle" stroke="#111" stroke-width="0.2" >-600</text>
<text transform="translate(265.90 147.15) scale(0.915 1)" font-size="7.7" text-anchor="middle" stroke="#111" stroke-width="0.2" >-400</text>
<text transform="translate(280.20 147.15) scale(0.915 1)" font-size="7.7" text-anchor="middle" stroke="#111" stroke-width="0.2" >-200</text>
<text transform="translate(295.50 147.15) scale(0.915 1)" font-size="7.7" text-anchor="middle" stroke="#111" stroke-width="0.2" >0</text>
<text transform="translate(309.80 147.15) scale(0.915 1)" font-size="7.7" text-anchor="middle" stroke="#111" stroke-width="0.2" >200</text>
<text transform="translate(324.10 147.15) scale(0.915 1)" font-size="7.7" text-anchor="middle" stroke="#111" stroke-width="0.2" >400</text>
<text transform="translate(338.40 147.15) scale(0.915 1)" font-size="7.7" text-anchor="middle" stroke="#111" stroke-width="0.2" >600</text>
<text transform="translate(352.70 147.15) scale(0.915 1)" font-size="7.7" text-anchor="middle" stroke="#111" stroke-width="0.2" >800</text>
<text transform="translate(247.20 29.50) scale(0.915 1)" font-size="7.7" text-anchor="end" stroke="#111" stroke-width="0.2" >800</text>
<text transform="translate(247.20 44.85) scale(0.915 1)" font-size="7.7" text-anchor="end" stroke="#111" stroke-width="0.2" >600</text>
<text transform="translate(247.20 60.20) scale(0.915 1)" font-size="7.7" text-anchor="end" stroke="#111" stroke-width="0.2" >400</text>
<text transform="translate(247.20 75.55) scale(0.915 1)" font-size="7.7" text-anchor="end" stroke="#111" stroke-width="0.2" >200</text>
<text transform="translate(247.20 90.90) scale(0.915 1)" font-size="7.7" text-anchor="end" stroke="#111" stroke-width="0.2" >0</text>
<text transform="translate(247.20 106.25) scale(0.915 1)" font-size="7.7" text-anchor="end" stroke="#111" stroke-width="0.2" >-200</text>
<text transform="translate(247.20 121.60) scale(0.915 1)" font-size="7.7" text-anchor="end" stroke="#111" stroke-width="0.2" >-400</text>
<text transform="translate(247.20 136.95) scale(0.915 1)" font-size="7.7" text-anchor="end" stroke="#111" stroke-width="0.2" >-600</text>
<path d="M265.80 133.45v-2.2M265.80 26.0v2.2M280.10 133.45v-2.2M280.10 26.0v2.2M294.40 133.45v-2.2M294.40 26.0v2.2M308.70 133.45v-2.2M308.70 26.0v2.2M323.00 133.45v-2.2M323.00 26.0v2.2M337.30 133.45v-2.2M337.30 26.0v2.2M351.60 133.45v-2.2M351.60 26.0v2.2M251.5 41.35h2.2M358.8 41.35h-2.2M251.5 56.70h2.2M358.8 56.70h-2.2M251.5 72.05h2.2M358.8 72.05h-2.2M251.5 87.40h2.2M358.8 87.40h-2.2M251.5 102.75h2.2M358.8 102.75h-2.2M251.5 118.10h2.2M358.8 118.10h-2.2" stroke="#222" stroke-width="0.8" fill="none"/>
<text transform="translate(305.15 157.85) scale(0.915 1)" font-size="7.7" text-anchor="middle" stroke="#111" stroke-width="0.2" >Z/cm</text>
<text transform="translate(224.10 79.72) rotate(-90) scale(0.915 1)" font-size="7.7" text-anchor="middle" stroke="#111" stroke-width="0.2">Y/cm</text>
</g>
<g id="pc">
<clipPath id="cc"><rect x="57.9" y="204.9" width="94.6" height="97"/></clipPath>
<g clip-path="url(#cc)"><g filter="url(#sc)">
<rect x="50" y="198" width="110.00" height="108.00" fill="rgb(0,0,0)" />
<g filter="url(#b3)">
<ellipse cx="100" cy="252" rx="38" ry="38" fill="rgb(0,52,0)" />
<ellipse cx="93" cy="256" rx="24" ry="22" fill="rgb(13,47,0)" />
</g>
<g filter="url(#b15)">
<ellipse cx="108" cy="248" rx="7" ry="3" fill="rgb(32,29,0)" />
<ellipse cx="91" cy="267.4" rx="15" ry="8" fill="rgb(37,24,0)" />
</g>
<g filter="url(#b1)">
<ellipse cx="93.2" cy="246.6" rx="8" ry="7.2" fill="rgb(43,20,0)" />
<ellipse cx="87.4" cy="267" rx="11" ry="6.2" fill="rgb(46,20,0)" />
<ellipse cx="84.8" cy="266.8" rx="8" ry="4.8" fill="rgb(60,18,0)" />
</g>
<path d="M87.4 219.5h1.0v1.0h-1.0zM63.8 256.4h1.0v1.0h-1.0zM111.8 292.3h1.0v1.0h-1.0zM60.5 246.6h1.0v1.0h-1.0zM79.6 257.9h1.0v1.0h-1.0zM134.7 216.9h1.0v1.0h-1.0zM116.3 261.0h1.0v1.0h-1.0zM111.2 243.1h1.0v1.0h-1.0zM61.4 287.4h1.0v1.0h-1.0zM86.0 283.3h1.0v1.0h-1.0zM66.7 259.8h1.0v1.0h-1.0zM92.0 257.6h1.0v1.0h-1.0zM110.1 264.4h1.0v1.0h-1.0zM121.0 246.0h1.0v1.0h-1.0zM100.8 293.7h1.0v1.0h-1.0zM85.2 281.3h1.0v1.0h-1.0zM64.7 233.8h1.0v1.0h-1.0zM139.3 275.0h1.0v1.0h-1.0zM96.3 277.7h1.0v1.0h-1.0zM144.7 245.5h1.0v1.0h-1.0zM128.9 260.0h1.0v1.0h-1.0zM89.0 238.6h1.0v1.0h-1.0zM111.5 248.8h1.0v1.0h-1.0zM145.8 250.5h1.0v1.0h-1.0zM150.4 283.9h1.0v1.0h-1.0zM124.4 290.2h1.0v1.0h-1.0zM59.1 249.3h1.0v1.0h-1.0zM114.4 252.4h1.0v1.0h-1.0zM129.2 217.4h1.0v1.0h-1.0zM94.4 293.0h1.0v1.0h-1.0zM83.1 218.1h1.0v1.0h-1.0zM138.2 231.7h1.0v1.0h-1.0zM149.7 270.5h1.0v1.0h-1.0zM147.0 219.5h1.0v1.0h-1.0zM71.2 268.2h1.0v1.0h-1.0zM102.6 261.6h1.0v1.0h-1.0zM91.7 259.4h1.0v1.0h-1.0zM118.6 276.0h1.0v1.0h-1.0zM93.9 243.3h1.0v1.0h-1.0zM102.3 243.4h1.0v1.0h-1.0zM63.3 225.0h1.0v1.0h-1.0zM67.3 262.7h1.0v1.0h-1.0zM66.5 239.9h1.0v1.0h-1.0zM63.6 225.0h1.0v1.0h-1.0zM71.0 229.2h1.0v1.0h-1.0zM113.6 250.5h1.0v1.0h-1.0zM136.8 300.3h1.0v1.0h-1.0zM102.2 234.9h1.0v1.0h-1.0zM66.6 237.9h1.0v1.0h-1.0zM91.0 271.2h1.0v1.0h-1.0zM128.3 233.6h1.0v1.0h-1.0zM122.4 230.1h1.0v1.0h-1.0zM142.4 239.1h1.0v1.0h-1.0zM107.1 279.8h1.0v1.0h-1.0zM116.8 263.9h1.0v1.0h-1.0zM132.8 283.6h1.0v1.0h-1.0zM75.8 252.3h1.0v1.0h-1.0zM150.0 280.9h1.0v1.0h-1.0zM81.4 271.5h1.0v1.0h-1.0zM99.0 295.0h1.0v1.0h-1.0zM146.8 240.0h1.0v1.0h-1.0zM66.6 250.1h1.0v1.0h-1.0zM136.0 251.0h1.0v1.0h-1.0zM132.2 213.1h1.0v1.0h-1.0zM142.5 280.1h1.0v1.0h-1.0zM101.9 222.1h1.0v1.0h-1.0zM65.2 295.8h1.0v1.0h-1.0zM100.5 276.4h1.0v1.0h-1.0zM125.1 221.3h1.0v1.0h-1.0zM59.6 261.7h1.0v1.0h-1.0zM149.1 268.1h1.0v1.0h-1.0zM71.7 257.6h1.0v1.0h-1.0zM58.3 298.2h1.0v1.0h-1.0zM106.5 294.6h1.0v1.0h-1.0zM149.7 223.7h1.0v1.0h-1.0zM79.6 261.3h1.0v1.0h-1.0zM108.2 285.1h1.0v1.0h-1.0zM142.5 239.0h1.0v1.0h-1.0zM58.8 247.3h1.0v1.0h-1.0zM114.2 279.5h1.0v1.0h-1.0zM73.2 250.5h1.0v1.0h-1.0zM106.9 251.3h1.0v1.0h-1.0zM140.0 210.5h1.0v1.0h-1.0zM99.5 207.7h1.0v1.0h-1.0zM114.0 224.1h1.0v1.0h-1.0zM99.5 256.2h1.0v1.0h-1.0zM139.4 295.4h1.0v1.0h-1.0zM143.7 290.7h1.0v1.0h-1.0zM136.0 218.2h1.0v1.0h-1.0zM93.9 235.3h1.0v1.0h-1.0zM97.3 225.4h1.0v1.0h-1.0zM130.7 291.1h1.0v1.0h-1.0zM145.3 266.8h1.0v1.0h-1.0zM70.4 289.8h1.0v1.0h-1.0zM77.6 296.4h1.0v1.0h-1.0zM140.2 220.6h1.0v1.0h-1.0zM95.0 245.4h1.0v1.0h-1.0zM86.9 274.3h1.0v1.0h-1.0zM88.8 249.0h1.0v1.0h-1.0zM93.1 254.7h1.0v1.0h-1.0zM105.2 211.2h1.0v1.0h-1.0zM148.3 215.1h1.0v1.0h-1.0zM82.6 292.0h1.0v1.0h-1.0zM82.4 217.4h1.0v1.0h-1.0zM136.9 269.9h1.0v1.0h-1.0zM110.6 272.2h1.0v1.0h-1.0zM83.2 281.8h1.0v1.0h-1.0zM97.0 212.0h1.0v1.0h-1.0zM116.6 282.0h1.0v1.0h-1.0zM114.2 226.4h1.0v1.0h-1.0zM138.1 248.6h1.0v1.0h-1.0zM150.5 245.1h1.0v1.0h-1.0zM115.4 209.1h1.0v1.0h-1.0zM145.2 298.0h1.0v1.0h-1.0zM61.7 224.4h1.0v1.0h-1.0zM116.1 256.0h1.0v1.0h-1.0zM84.3 253.0h1.0v1.0h-1.0zM82.4 282.2h1.0v1.0h-1.0zM108.8 223.2h1.0v1.0h-1.0zM80.1 247.9h1.0v1.0h-1.0zM118.7 257.4h1.0v1.0h-1.0zM148.2 234.5h1.0v1.0h-1.0zM149.3 237.9h1.0v1.0h-1.0zM95.0 238.4h1.0v1.0h-1.0zM135.7 206.4h1.0v1.0h-1.0zM97.5 210.3h1.0v1.0h-1.0zM138.8 269.4h1.0v1.0h-1.0zM113.3 271.5h1.0v1.0h-1.0zM100.2 220.1h1.0v1.0h-1.0zM87.9 299.6h1.0v1.0h-1.0zM80.0 297.7h1.0v1.0h-1.0zM77.5 222.6h1.0v1.0h-1.0zM118.7 228.8h1.0v1.0h-1.0zM65.5 283.4h1.0v1.0h-1.0zM94.6 209.0h1.0v1.0h-1.0zM85.2 265.4h1.0v1.0h-1.0zM112.0 255.8h1.0v1.0h-1.0zM93.6 236.3h1.0v1.0h-1.0zM71.0 274.5h1.0v1.0h-1.0zM110.4 283.0h1.0v1.0h-1.0zM134.7 261.1h1.0v1.0h-1.0z" fill="rgb(52,0,0)"/>
<path d="M96.4 256.9h1.0v1.0h-1.0zM114.2 212.0h1.0v1.0h-1.0zM62.7 272.3h1.0v1.0h-1.0zM64.6 248.1h1.0v1.0h-1.0zM83.5 219.0h1.0v1.0h-1.0zM121.9 254.5h1.0v1.0h-1.0zM141.6 279.9h1.0v1.0h-1.0zM102.0 271.4h1.0v1.0h-1.0zM59.2 296.3h1.0v1.0h-1.0zM76.2 264.9h1.0v1.0h-1.0zM132.8 219.0h1.0v1.0h-1.0zM59.6 225.4h1.0v1.0h-1.0zM119.3 283.2h1.0v1.0h-1.0zM96.5 293.1h1.0v1.0h-1.0zM69.3 219.6h1.0v1.0h-1.0zM109.3 236.3h1.0v1.0h-1.0zM83.0 279.1h1.0v1.0h-1.0zM98.7 263.8h1.0v1.0h-1.0zM104.7 228.8h1.0v1.0h-1.0zM72.2 246.4h1.0v1.0h-1.0zM95.2 256.5h1.0v1.0h-1.0zM60.5 206.8h1.0v1.0h-1.0zM92.9 250.6h1.0v1.0h-1.0zM118.8 273.7h1.0v1.0h-1.0zM61.1 285.2h1.0v1.0h-1.0zM116.0 275.4h1.0v1.0h-1.0zM70.1 255.3h1.0v1.0h-1.0z" fill="rgb(62,0,0)"/>
<path d="M130.4 253.3h1.0v1.0h-1.0zM127.9 238.9h1.0v1.0h-1.0zM132.9 250.8h1.0v1.0h-1.0zM129.7 243.2h1.0v1.0h-1.0zM128.8 238.4h1.0v1.0h-1.0zM129.9 231.3h1.0v1.0h-1.0zM129.7 282.6h1.0v1.0h-1.0zM130.4 275.0h1.0v1.0h-1.0zM130.6 254.3h1.0v1.0h-1.0zM129.3 229.6h1.0v1.0h-1.0zM131.5 258.7h1.0v1.0h-1.0z" fill="rgb(80,0,0)"/>
<path d="M129.5 258.0h1.0v1.0h-1.0zM128.8 246.8h1.0v1.0h-1.0zM127.1 256.5h1.0v1.0h-1.0zM128.4 250.8h1.0v1.0h-1.0zM131.2 268.8h1.0v1.0h-1.0zM128.2 247.4h1.0v1.0h-1.0zM130.3 248.4h1.0v1.0h-1.0zM131.7 262.1h1.0v1.0h-1.0zM128.2 231.2h1.0v1.0h-1.0zM126.7 250.6h1.0v1.0h-1.0zM130.1 250.3h1.0v1.0h-1.0zM130.9 265.6h1.0v1.0h-1.0zM131.0 263.6h1.0v1.0h-1.0zM131.1 239.4h1.0v1.0h-1.0zM133.2 273.1h1.0v1.0h-1.0z" fill="rgb(71,0,0)"/>
<path d="M133.1 230.7h1.0v1.0h-1.0zM130.3 286.8h1.0v1.0h-1.0zM131.1 240.3h1.0v1.0h-1.0zM128.3 228.8h1.0v1.0h-1.0zM128.7 244.2h1.0v1.0h-1.0zM131.6 249.2h1.0v1.0h-1.0zM126.1 241.8h1.0v1.0h-1.0zM131.9 227.6h1.0v1.0h-1.0zM130.0 207.9h1.0v1.0h-1.0zM131.0 244.6h1.0v1.0h-1.0zM130.8 235.8h1.0v1.0h-1.0zM130.7 234.5h1.0v1.0h-1.0z" fill="rgb(62,0,0)"/>
<path d="M130.0 265.9h1.0v1.0h-1.0zM130.7 266.5h1.0v1.0h-1.0zM132.7 255.9h1.0v1.0h-1.0zM134.1 255.8h1.0v1.0h-1.0zM129.9 260.4h1.0v1.0h-1.0zM126.8 264.5h1.0v1.0h-1.0zM125.6 263.0h1.0v1.0h-1.0zM131.0 266.5h1.0v1.0h-1.0zM129.0 269.8h1.0v1.0h-1.0zM128.8 264.1h1.0v1.0h-1.0zM128.1 260.2h1.0v1.0h-1.0zM129.5 260.5h1.0v1.0h-1.0zM127.9 260.3h1.0v1.0h-1.0zM132.2 261.9h1.0v1.0h-1.0z" fill="rgb(80,0,0)"/>
<path d="M77.7 208.3h1.0v1.0h-1.0zM87.2 210.1h1.0v1.0h-1.0zM67.4 213.0h1.0v1.0h-1.0zM67.5 212.3h1.0v1.0h-1.0zM79.0 210.9h1.0v1.0h-1.0zM108.6 211.5h1.0v1.0h-1.0zM114.7 208.3h1.0v1.0h-1.0zM106.9 208.6h1.0v1.0h-1.0zM93.9 210.7h1.0v1.0h-1.0zM121.8 211.6h1.0v1.0h-1.0zM94.9 206.9h1.0v1.0h-1.0zM81.6 207.0h1.0v1.0h-1.0z" fill="rgb(80,0,0)"/>
<path d="M117.3 205.8h1.0v1.0h-1.0zM65.9 209.0h1.0v1.0h-1.0zM127.6 212.5h1.0v1.0h-1.0zM74.4 210.9h1.0v1.0h-1.0zM97.1 209.1h1.0v1.0h-1.0zM121.9 207.3h1.0v1.0h-1.0zM74.8 206.4h1.0v1.0h-1.0z" fill="rgb(71,0,0)"/>
<path d="M149.8 263.5h1.0v1.0h-1.0zM149.3 266.3h1.0v1.0h-1.0zM149.5 264.5h1.0v1.0h-1.0zM150.8 264.1h1.0v1.0h-1.0z" fill="rgb(80,0,0)"/>
</g></g>
<rect x="57.4" y="204.4" width="95.6" height="98" fill="none" stroke="#222" stroke-width="1"/>
<rect x="50.5" y="197.8" width="107.90" height="107.55" fill="none" stroke="#222" stroke-width="0.9"/>
<text transform="translate(50.80 319.05) scale(0.915 1)" font-size="7.7" text-anchor="middle" stroke="#111" stroke-width="0.2" >-600</text>
<text transform="translate(65.10 319.05) scale(0.915 1)" font-size="7.7" text-anchor="middle" stroke="#111" stroke-width="0.2" >-400</text>
<text transform="translate(79.40 319.05) scale(0.915 1)" font-size="7.7" text-anchor="middle" stroke="#111" stroke-width="0.2" >-200</text>
<text transform="translate(94.70 319.05) scale(0.915 1)" font-size="7.7" text-anchor="middle" stroke="#111" stroke-width="0.2" >0</text>
<text transform="translate(109.00 319.05) scale(0.915 1)" font-size="7.7" text-anchor="middle" stroke="#111" stroke-width="0.2" >200</text>
<text transform="translate(123.30 319.05) scale(0.915 1)" font-size="7.7" text-anchor="middle" stroke="#111" stroke-width="0.2" >400</text>
<text transform="translate(137.60 319.05) scale(0.915 1)" font-size="7.7" text-anchor="middle" stroke="#111" stroke-width="0.2" >600</text>
<text transform="translate(151.90 319.05) scale(0.915 1)" font-size="7.7" text-anchor="middle" stroke="#111" stroke-width="0.2" >800</text>
<text transform="translate(46.20 208.10) scale(0.915 1)" font-size="7.7" text-anchor="end" stroke="#111" stroke-width="0.2" >600</text>
<text transform="translate(46.20 222.45) scale(0.915 1)" font-size="7.7" text-anchor="end" stroke="#111" stroke-width="0.2" >400</text>
<text transform="translate(46.20 236.80) scale(0.915 1)" font-size="7.7" text-anchor="end" stroke="#111" stroke-width="0.2" >200</text>
<text transform="translate(46.20 251.15) scale(0.915 1)" font-size="7.7" text-anchor="end" stroke="#111" stroke-width="0.2" >0</text>
<text transform="translate(46.20 265.50) scale(0.915 1)" font-size="7.7" text-anchor="end" stroke="#111" stroke-width="0.2" >-200</text>
<text transform="translate(46.20 279.85) scale(0.915 1)" font-size="7.7" text-anchor="end" stroke="#111" stroke-width="0.2" >-400</text>
<text transform="translate(46.20 294.20) scale(0.915 1)" font-size="7.7" text-anchor="end" stroke="#111" stroke-width="0.2" >-600</text>
<text transform="translate(46.20 308.55) scale(0.915 1)" font-size="7.7" text-anchor="end" stroke="#111" stroke-width="0.2" >-800</text>
<path d="M65.00 305.35v-2.2M65.00 197.8v2.2M79.30 305.35v-2.2M79.30 197.8v2.2M93.60 305.35v-2.2M93.60 197.8v2.2M107.90 305.35v-2.2M107.90 197.8v2.2M122.20 305.35v-2.2M122.20 197.8v2.2M136.50 305.35v-2.2M136.50 197.8v2.2M150.80 305.35v-2.2M150.80 197.8v2.2M50.5 204.90h2.2M158.4 204.90h-2.2M50.5 219.25h2.2M158.4 219.25h-2.2M50.5 233.60h2.2M158.4 233.60h-2.2M50.5 247.95h2.2M158.4 247.95h-2.2M50.5 262.30h2.2M158.4 262.30h-2.2M50.5 276.65h2.2M158.4 276.65h-2.2M50.5 291.00h2.2M158.4 291.00h-2.2" stroke="#222" stroke-width="0.8" fill="none"/>
<text transform="translate(104.45 329.75) scale(0.915 1)" font-size="7.7" text-anchor="middle" stroke="#111" stroke-width="0.2" >Z/cm</text>
<text transform="translate(23.10 251.58) rotate(-90) scale(0.915 1)" font-size="7.7" text-anchor="middle" stroke="#111" stroke-width="0.2">X/cm</text>
</g>
<g id="pd">
<clipPath id="cd"><rect x="258" y="215" width="95.2" height="71.1"/></clipPath>
<g clip-path="url(#cd)"><g filter="url(#sd)">
<rect x="251" y="198" width="109.00" height="108.00" fill="rgb(0,0,0)" />
<g filter="url(#b3)">
<ellipse cx="295" cy="250" rx="36" ry="18" fill="rgb(0,49,0)" />
</g>
<g filter="url(#b15)">
<ellipse cx="290" cy="257" rx="10" ry="7" fill="rgb(25,35,0)" />
</g>
<g filter="url(#b1)">
<ellipse cx="326" cy="260" rx="4.2" ry="8.8" fill="rgb(31,56,0)" />
<ellipse cx="313.4" cy="249.4" rx="1.2" ry="1.0" fill="rgb(79,20,0)" />
</g>
<path d="M280.1 234.7h1.0v1.0h-1.0zM297.8 230.1h1.0v1.0h-1.0zM313.5 220.1h1.0v1.0h-1.0zM338.3 229.7h1.0v1.0h-1.0zM317.6 257.2h1.0v1.0h-1.0zM316.4 228.1h1.0v1.0h-1.0zM321.5 245.3h1.0v1.0h-1.0zM299.6 228.2h1.0v1.0h-1.0zM275.8 229.4h1.0v1.0h-1.0zM264.8 251.9h1.0v1.0h-1.0zM335.7 244.2h1.0v1.0h-1.0zM259.9 218.3h1.0v1.0h-1.0zM292.4 256.8h1.0v1.0h-1.0zM290.4 267.3h1.0v1.0h-1.0zM338.8 235.4h1.0v1.0h-1.0zM289.1 237.9h1.0v1.0h-1.0zM294.8 223.1h1.0v1.0h-1.0zM280.2 236.7h1.0v1.0h-1.0zM262.9 256.5h1.0v1.0h-1.0zM288.5 268.5h1.0v1.0h-1.0zM328.1 259.9h1.0v1.0h-1.0zM288.8 243.0h1.0v1.0h-1.0zM278.1 258.8h1.0v1.0h-1.0zM287.7 235.8h1.0v1.0h-1.0zM278.6 257.1h1.0v1.0h-1.0zM338.2 233.7h1.0v1.0h-1.0zM340.9 238.6h1.0v1.0h-1.0zM337.2 262.6h1.0v1.0h-1.0zM338.5 227.2h1.0v1.0h-1.0zM329.0 260.3h1.0v1.0h-1.0zM284.5 234.9h1.0v1.0h-1.0zM325.5 250.4h1.0v1.0h-1.0zM260.8 218.9h1.0v1.0h-1.0zM269.5 240.9h1.0v1.0h-1.0zM343.9 231.8h1.0v1.0h-1.0zM310.8 254.8h1.0v1.0h-1.0zM325.2 233.5h1.0v1.0h-1.0zM306.0 237.9h1.0v1.0h-1.0zM272.9 230.9h1.0v1.0h-1.0zM276.2 232.8h1.0v1.0h-1.0zM284.4 239.2h1.0v1.0h-1.0zM300.7 230.0h1.0v1.0h-1.0zM264.2 243.6h1.0v1.0h-1.0zM330.7 268.2h1.0v1.0h-1.0zM333.9 230.0h1.0v1.0h-1.0zM307.5 269.1h1.0v1.0h-1.0zM301.1 227.0h1.0v1.0h-1.0zM324.7 254.2h1.0v1.0h-1.0zM264.5 250.4h1.0v1.0h-1.0zM274.6 237.6h1.0v1.0h-1.0zM258.4 258.0h1.0v1.0h-1.0z" fill="rgb(52,0,0)"/>
<path d="M299.8 254.8h1.0v1.0h-1.0zM262.3 229.8h1.0v1.0h-1.0zM340.4 225.2h1.0v1.0h-1.0zM313.7 246.4h1.0v1.0h-1.0zM305.5 259.5h1.0v1.0h-1.0zM287.1 263.0h1.0v1.0h-1.0zM284.1 258.3h1.0v1.0h-1.0zM290.3 226.0h1.0v1.0h-1.0zM273.8 240.6h1.0v1.0h-1.0zM270.6 224.4h1.0v1.0h-1.0z" fill="rgb(62,0,0)"/>
<path d="M272.4 245.1h1.0v1.0h-1.0zM266.3 253.0h1.0v1.0h-1.0zM269.3 257.8h1.0v1.0h-1.0zM264.2 260.3h1.0v1.0h-1.0zM265.0 265.4h1.0v1.0h-1.0zM267.0 257.7h1.0v1.0h-1.0zM264.3 251.5h1.0v1.0h-1.0zM271.2 258.2h1.0v1.0h-1.0zM275.1 262.2h1.0v1.0h-1.0zM267.7 252.7h1.0v1.0h-1.0zM280.8 261.2h1.0v1.0h-1.0zM280.9 262.3h1.0v1.0h-1.0zM269.5 247.0h1.0v1.0h-1.0zM276.2 258.4h1.0v1.0h-1.0zM276.5 267.7h1.0v1.0h-1.0z" fill="rgb(71,0,0)"/>
<path d="M265.9 256.2h1.0v1.0h-1.0zM270.5 247.1h1.0v1.0h-1.0zM266.3 254.7h1.0v1.0h-1.0zM264.9 250.7h1.0v1.0h-1.0zM268.2 257.7h1.0v1.0h-1.0zM264.5 258.0h1.0v1.0h-1.0zM266.5 265.3h1.0v1.0h-1.0zM273.4 262.1h1.0v1.0h-1.0zM269.6 253.3h1.0v1.0h-1.0zM262.0 250.3h1.0v1.0h-1.0zM269.8 253.1h1.0v1.0h-1.0zM281.7 261.3h1.0v1.0h-1.0zM265.7 259.4h1.0v1.0h-1.0zM278.8 254.6h1.0v1.0h-1.0zM279.1 260.2h1.0v1.0h-1.0zM263.2 263.1h1.0v1.0h-1.0zM269.2 249.4h1.0v1.0h-1.0zM270.3 250.4h1.0v1.0h-1.0zM272.4 262.4h1.0v1.0h-1.0zM276.3 259.5h1.0v1.0h-1.0zM274.9 250.8h1.0v1.0h-1.0zM266.8 244.2h1.0v1.0h-1.0zM280.9 252.8h1.0v1.0h-1.0z" fill="rgb(62,0,0)"/>
<path d="M276.1 262.7h1.0v1.0h-1.0zM275.5 259.3h1.0v1.0h-1.0zM262.9 261.9h1.0v1.0h-1.0zM262.5 253.3h1.0v1.0h-1.0zM261.6 258.6h1.0v1.0h-1.0zM270.3 249.1h1.0v1.0h-1.0zM272.6 254.1h1.0v1.0h-1.0zM266.0 256.8h1.0v1.0h-1.0zM270.2 257.4h1.0v1.0h-1.0z" fill="rgb(80,0,0)"/>
<path d="M323.6 249.9h1.0v1.0h-1.0zM328.6 261.9h1.0v1.0h-1.0zM328.2 265.5h1.0v1.0h-1.0zM326.0 265.8h1.0v1.0h-1.0zM326.5 263.0h1.0v1.0h-1.0zM322.6 247.0h1.0v1.0h-1.0zM332.1 263.4h1.0v1.0h-1.0zM321.5 256.6h1.0v1.0h-1.0zM325.6 267.6h1.0v1.0h-1.0zM325.5 253.3h1.0v1.0h-1.0zM330.2 259.0h1.0v1.0h-1.0zM325.0 261.8h1.0v1.0h-1.0zM328.2 269.1h1.0v1.0h-1.0zM324.5 267.0h1.0v1.0h-1.0zM326.6 259.5h1.0v1.0h-1.0zM324.5 268.3h1.0v1.0h-1.0zM318.5 258.4h1.0v1.0h-1.0zM321.0 260.2h1.0v1.0h-1.0zM325.9 259.6h1.0v1.0h-1.0zM327.9 264.1h1.0v1.0h-1.0zM326.0 260.4h1.0v1.0h-1.0zM324.7 252.6h1.0v1.0h-1.0zM321.3 249.5h1.0v1.0h-1.0zM323.5 262.4h1.0v1.0h-1.0zM331.6 263.7h1.0v1.0h-1.0zM330.8 255.4h1.0v1.0h-1.0zM325.7 259.7h1.0v1.0h-1.0zM322.3 258.2h1.0v1.0h-1.0zM327.5 258.2h1.0v1.0h-1.0zM321.8 250.2h1.0v1.0h-1.0zM332.5 263.6h1.0v1.0h-1.0zM325.6 258.8h1.0v1.0h-1.0zM324.5 256.2h1.0v1.0h-1.0zM325.3 268.8h1.0v1.0h-1.0zM328.2 257.7h1.0v1.0h-1.0zM325.3 267.7h1.0v1.0h-1.0zM322.7 246.2h1.0v1.0h-1.0zM328.3 260.0h1.0v1.0h-1.0zM326.9 255.8h1.0v1.0h-1.0zM325.6 253.7h1.0v1.0h-1.0zM332.3 266.2h1.0v1.0h-1.0zM328.5 256.9h1.0v1.0h-1.0zM325.4 257.9h1.0v1.0h-1.0z" fill="rgb(80,0,0)"/>
<path d="M326.4 264.4h1.0v1.0h-1.0zM326.4 254.6h1.0v1.0h-1.0zM319.4 245.1h1.0v1.0h-1.0zM332.2 253.5h1.0v1.0h-1.0zM324.3 267.0h1.0v1.0h-1.0zM326.4 268.0h1.0v1.0h-1.0zM322.0 254.7h1.0v1.0h-1.0zM329.4 265.0h1.0v1.0h-1.0zM320.9 258.4h1.0v1.0h-1.0zM324.5 259.4h1.0v1.0h-1.0zM325.6 252.2h1.0v1.0h-1.0zM322.8 268.8h1.0v1.0h-1.0zM326.8 257.8h1.0v1.0h-1.0zM324.5 263.7h1.0v1.0h-1.0zM334.2 250.8h1.0v1.0h-1.0zM319.3 261.9h1.0v1.0h-1.0zM326.5 259.6h1.0v1.0h-1.0zM326.5 253.2h1.0v1.0h-1.0zM327.3 260.2h1.0v1.0h-1.0zM324.0 250.9h1.0v1.0h-1.0zM326.7 260.3h1.0v1.0h-1.0zM325.9 255.2h1.0v1.0h-1.0z" fill="rgb(71,0,0)"/>
<path d="M319.6 276.7h1.0v1.0h-1.0zM320.1 277.6h1.0v1.0h-1.0zM323.8 277.8h1.0v1.0h-1.0zM320.3 275.1h1.0v1.0h-1.0z" fill="rgb(80,0,0)"/>
</g></g>
<path d="M257.7 214.4H353.6V286.7H257.7zM257.7 271.2H353.6" fill="none" stroke="#222" stroke-width="0.85"/>
<rect x="251.5" y="197.9" width="107.40" height="107.30" fill="none" stroke="#222" stroke-width="0.9"/>
<text transform="translate(251.60 318.90) scale(0.915 1)" font-size="7.7" text-anchor="middle" stroke="#111" stroke-width="0.2" >-600</text>
<text transform="translate(265.90 318.90) scale(0.915 1)" font-size="7.7" text-anchor="middle" stroke="#111" stroke-width="0.2" >-400</text>
<text transform="translate(280.20 318.90) scale(0.915 1)" font-size="7.7" text-anchor="middle" stroke="#111" stroke-width="0.2" >-200</text>
<text transform="translate(295.50 318.90) scale(0.915 1)" font-size="7.7" text-anchor="middle" stroke="#111" stroke-width="0.2" >0</text>
<text transform="translate(309.80 318.90) scale(0.915 1)" font-size="7.7" text-anchor="middle" stroke="#111" stroke-width="0.2" >200</text>
<text transform="translate(324.10 318.90) scale(0.915 1)" font-size="7.7" text-anchor="middle" stroke="#111" stroke-width="0.2" >400</text>
<text transform="translate(338.40 318.90) scale(0.915 1)" font-size="7.7" text-anchor="middle" stroke="#111" stroke-width="0.2" >600</text>
<text transform="translate(352.70 318.90) scale(0.915 1)" font-size="7.7" text-anchor="middle" stroke="#111" stroke-width="0.2" >800</text>
<text transform="translate(247.20 201.70) scale(0.915 1)" font-size="7.7" text-anchor="end" stroke="#111" stroke-width="0.2" >800</text>
<text transform="translate(247.20 217.03) scale(0.915 1)" font-size="7.7" text-anchor="end" stroke="#111" stroke-width="0.2" >600</text>
<text transform="translate(247.20 232.36) scale(0.915 1)" font-size="7.7" text-anchor="end" stroke="#111" stroke-width="0.2" >400</text>
<text transform="translate(247.20 247.69) scale(0.915 1)" font-size="7.7" text-anchor="end" stroke="#111" stroke-width="0.2" >200</text>
<text transform="translate(247.20 263.01) scale(0.915 1)" font-size="7.7" text-anchor="end" stroke="#111" stroke-width="0.2" >0</text>
<text transform="translate(247.20 278.34) scale(0.915 1)" font-size="7.7" text-anchor="end" stroke="#111" stroke-width="0.2" >-200</text>
<text transform="translate(247.20 293.67) scale(0.915 1)" font-size="7.7" text-anchor="end" stroke="#111" stroke-width="0.2" >-400</text>
<text transform="translate(247.20 309.00) scale(0.915 1)" font-size="7.7" text-anchor="end" stroke="#111" stroke-width="0.2" >-600</text>
<path d="M265.80 305.2v-2.2M265.80 197.9v2.2M280.10 305.2v-2.2M280.10 197.9v2.2M294.40 305.2v-2.2M294.40 197.9v2.2M308.70 305.2v-2.2M308.70 197.9v2.2M323.00 305.2v-2.2M323.00 197.9v2.2M337.30 305.2v-2.2M337.30 197.9v2.2M351.60 305.2v-2.2M351.60 197.9v2.2M251.5 213.23h2.2M358.9 213.23h-2.2M251.5 228.56h2.2M358.9 228.56h-2.2M251.5 243.89h2.2M358.9 243.89h-2.2M251.5 259.21h2.2M358.9 259.21h-2.2M251.5 274.54h2.2M358.9 274.54h-2.2M251.5 289.87h2.2M358.9 289.87h-2.2" stroke="#222" stroke-width="0.8" fill="none"/>
<text transform="translate(305.20 329.60) scale(0.915 1)" font-size="7.7" text-anchor="middle" stroke="#111" stroke-width="0.2" >Z/cm</text>
<text transform="translate(224.10 251.55) rotate(-90) scale(0.915 1)" font-size="7.7" text-anchor="middle" stroke="#111" stroke-width="0.2">Y/cm</text>
</g>
<g id="pe">
<clipPath id="ce"><rect x="57.1" y="386.8" width="95.2" height="71.1"/></clipPath>
<g clip-path="url(#ce)"><g filter="url(#se)">
<rect x="50" y="369" width="110.00" height="111.00" fill="rgb(0,0,0)" />
<g filter="url(#b3)">
<ellipse cx="98" cy="430" rx="38" ry="24" fill="rgb(0,51,0)" />
</g>
<g filter="url(#b15)">
<ellipse cx="112" cy="432" rx="10" ry="7" fill="rgb(38,22,0)" />
<ellipse cx="94" cy="432" rx="21" ry="16" fill="rgb(33,27,0)" />
</g>
<g filter="url(#b1)">
<ellipse cx="91.5" cy="431.2" rx="16.4" ry="13.2" fill="rgb(45,24,0)" />
<ellipse cx="91.5" cy="432" rx="13.6" ry="10.8" fill="rgb(51,26,0)" />
<ellipse cx="91.2" cy="429.4" rx="11.8" ry="8.6" fill="rgb(72,8,0)" />
</g>
<path d="M97.9 400.0h1.0v1.0h-1.0zM81.5 413.9h1.0v1.0h-1.0zM80.4 439.7h1.0v1.0h-1.0zM131.6 433.0h1.0v1.0h-1.0zM126.0 393.1h1.0v1.0h-1.0zM86.2 438.9h1.0v1.0h-1.0zM119.3 447.3h1.0v1.0h-1.0zM70.3 391.1h1.0v1.0h-1.0zM81.0 442.0h1.0v1.0h-1.0zM99.2 445.2h1.0v1.0h-1.0zM142.0 431.3h1.0v1.0h-1.0zM107.0 401.8h1.0v1.0h-1.0zM139.4 406.7h1.0v1.0h-1.0zM64.9 434.3h1.0v1.0h-1.0zM105.5 398.1h1.0v1.0h-1.0zM135.0 392.7h1.0v1.0h-1.0zM82.3 420.1h1.0v1.0h-1.0zM89.1 451.1h1.0v1.0h-1.0zM140.0 399.6h1.0v1.0h-1.0zM86.4 413.2h1.0v1.0h-1.0zM133.1 421.6h1.0v1.0h-1.0zM70.3 420.8h1.0v1.0h-1.0zM112.8 438.4h1.0v1.0h-1.0zM79.1 442.3h1.0v1.0h-1.0zM120.1 432.0h1.0v1.0h-1.0zM69.5 413.3h1.0v1.0h-1.0zM78.3 455.9h1.0v1.0h-1.0zM69.8 435.7h1.0v1.0h-1.0zM79.6 398.4h1.0v1.0h-1.0zM117.4 425.0h1.0v1.0h-1.0zM131.1 436.4h1.0v1.0h-1.0zM93.9 408.7h1.0v1.0h-1.0zM119.2 433.8h1.0v1.0h-1.0zM131.4 423.8h1.0v1.0h-1.0zM110.9 418.8h1.0v1.0h-1.0zM135.5 413.3h1.0v1.0h-1.0zM90.0 424.3h1.0v1.0h-1.0zM58.4 427.9h1.0v1.0h-1.0zM119.5 455.7h1.0v1.0h-1.0zM103.7 439.8h1.0v1.0h-1.0zM112.5 447.4h1.0v1.0h-1.0zM91.9 455.5h1.0v1.0h-1.0zM144.1 403.5h1.0v1.0h-1.0zM120.6 432.8h1.0v1.0h-1.0zM77.7 417.0h1.0v1.0h-1.0zM92.8 438.5h1.0v1.0h-1.0zM107.2 398.4h1.0v1.0h-1.0zM121.7 454.9h1.0v1.0h-1.0zM74.1 399.8h1.0v1.0h-1.0zM112.8 440.0h1.0v1.0h-1.0zM97.1 411.0h1.0v1.0h-1.0zM125.2 422.9h1.0v1.0h-1.0zM79.1 416.6h1.0v1.0h-1.0zM80.3 407.7h1.0v1.0h-1.0zM83.8 424.0h1.0v1.0h-1.0zM114.3 415.6h1.0v1.0h-1.0zM131.9 394.9h1.0v1.0h-1.0zM125.6 400.5h1.0v1.0h-1.0zM112.0 392.0h1.0v1.0h-1.0zM73.9 395.9h1.0v1.0h-1.0zM77.5 397.9h1.0v1.0h-1.0zM126.3 402.4h1.0v1.0h-1.0zM115.2 451.8h1.0v1.0h-1.0zM72.8 438.1h1.0v1.0h-1.0zM121.8 420.8h1.0v1.0h-1.0zM105.0 409.0h1.0v1.0h-1.0zM129.4 423.2h1.0v1.0h-1.0zM77.2 402.2h1.0v1.0h-1.0zM114.9 448.2h1.0v1.0h-1.0zM115.8 403.3h1.0v1.0h-1.0zM112.3 392.9h1.0v1.0h-1.0zM116.4 454.3h1.0v1.0h-1.0zM98.6 452.0h1.0v1.0h-1.0zM74.2 419.3h1.0v1.0h-1.0zM85.5 449.6h1.0v1.0h-1.0zM85.7 443.9h1.0v1.0h-1.0zM80.6 414.3h1.0v1.0h-1.0zM104.9 447.2h1.0v1.0h-1.0zM87.0 424.6h1.0v1.0h-1.0zM100.3 409.5h1.0v1.0h-1.0z" fill="rgb(52,0,0)"/>
<path d="M136.9 443.3h1.0v1.0h-1.0zM87.0 418.3h1.0v1.0h-1.0zM135.3 441.7h1.0v1.0h-1.0zM107.1 399.6h1.0v1.0h-1.0zM126.5 440.9h1.0v1.0h-1.0zM80.3 451.2h1.0v1.0h-1.0zM58.1 418.1h1.0v1.0h-1.0zM96.7 400.6h1.0v1.0h-1.0zM131.8 438.7h1.0v1.0h-1.0zM116.2 434.6h1.0v1.0h-1.0zM135.5 407.5h1.0v1.0h-1.0zM101.7 397.9h1.0v1.0h-1.0zM144.5 456.3h1.0v1.0h-1.0zM127.9 434.1h1.0v1.0h-1.0zM86.8 434.4h1.0v1.0h-1.0zM143.5 437.2h1.0v1.0h-1.0zM131.9 403.6h1.0v1.0h-1.0zM86.2 401.4h1.0v1.0h-1.0zM98.6 452.6h1.0v1.0h-1.0zM69.4 412.8h1.0v1.0h-1.0zM127.8 397.4h1.0v1.0h-1.0z" fill="rgb(62,0,0)"/>
<path d="M75.2 430.6h1.0v1.0h-1.0zM77.3 443.6h1.0v1.0h-1.0zM72.0 433.6h1.0v1.0h-1.0zM61.8 426.8h1.0v1.0h-1.0zM68.2 429.2h1.0v1.0h-1.0zM71.6 427.4h1.0v1.0h-1.0zM68.5 433.5h1.0v1.0h-1.0zM61.5 435.6h1.0v1.0h-1.0zM61.9 432.1h1.0v1.0h-1.0zM72.7 428.8h1.0v1.0h-1.0zM68.7 435.3h1.0v1.0h-1.0zM77.4 442.8h1.0v1.0h-1.0zM75.9 433.1h1.0v1.0h-1.0zM60.1 435.0h1.0v1.0h-1.0zM73.0 424.3h1.0v1.0h-1.0zM65.0 441.0h1.0v1.0h-1.0zM67.2 425.3h1.0v1.0h-1.0z" fill="rgb(62,0,0)"/>
<path d="M65.9 436.6h1.0v1.0h-1.0zM76.9 435.2h1.0v1.0h-1.0zM74.3 427.5h1.0v1.0h-1.0zM69.9 429.6h1.0v1.0h-1.0zM64.4 430.2h1.0v1.0h-1.0zM73.6 431.2h1.0v1.0h-1.0zM66.0 431.2h1.0v1.0h-1.0zM68.5 435.0h1.0v1.0h-1.0zM66.3 439.4h1.0v1.0h-1.0zM65.3 424.3h1.0v1.0h-1.0zM73.5 440.5h1.0v1.0h-1.0zM70.9 431.0h1.0v1.0h-1.0zM59.4 433.5h1.0v1.0h-1.0z" fill="rgb(71,0,0)"/>
<path d="M68.3 430.3h1.0v1.0h-1.0zM63.2 430.0h1.0v1.0h-1.0zM62.3 426.5h1.0v1.0h-1.0zM73.8 427.6h1.0v1.0h-1.0zM72.5 439.2h1.0v1.0h-1.0zM74.9 434.1h1.0v1.0h-1.0zM68.8 425.8h1.0v1.0h-1.0zM65.1 424.7h1.0v1.0h-1.0zM67.4 432.4h1.0v1.0h-1.0zM62.5 439.4h1.0v1.0h-1.0zM67.7 447.5h1.0v1.0h-1.0zM69.7 432.4h1.0v1.0h-1.0zM77.2 429.0h1.0v1.0h-1.0zM72.5 434.1h1.0v1.0h-1.0z" fill="rgb(80,0,0)"/>
<path d="M150.6 428.4h1.0v1.0h-1.0zM147.9 434.0h1.0v1.0h-1.0zM149.1 424.9h1.0v1.0h-1.0zM147.5 443.6h1.0v1.0h-1.0zM147.6 434.1h1.0v1.0h-1.0zM147.8 433.9h1.0v1.0h-1.0z" fill="rgb(71,0,0)"/>
<path d="M149.8 424.9h1.0v1.0h-1.0zM144.2 423.7h1.0v1.0h-1.0zM146.3 438.4h1.0v1.0h-1.0zM148.5 427.4h1.0v1.0h-1.0zM147.5 436.3h1.0v1.0h-1.0zM145.5 426.3h1.0v1.0h-1.0zM147.8 435.2h1.0v1.0h-1.0zM148.3 428.2h1.0v1.0h-1.0z" fill="rgb(62,0,0)"/>
<path d="M90.0 450.0h1.0v1.0h-1.0zM96.6 449.2h1.0v1.0h-1.0zM93.0 449.9h1.0v1.0h-1.0zM91.9 453.4h1.0v1.0h-1.0zM100.9 451.7h1.0v1.0h-1.0zM103.6 447.4h1.0v1.0h-1.0zM93.2 449.8h1.0v1.0h-1.0zM93.8 448.5h1.0v1.0h-1.0zM122.0 449.1h1.0v1.0h-1.0zM90.9 448.2h1.0v1.0h-1.0zM110.9 441.1h1.0v1.0h-1.0zM104.1 446.8h1.0v1.0h-1.0zM96.0 450.1h1.0v1.0h-1.0zM75.3 446.9h1.0v1.0h-1.0zM74.9 450.1h1.0v1.0h-1.0zM109.2 445.6h1.0v1.0h-1.0zM96.6 448.0h1.0v1.0h-1.0zM90.4 449.4h1.0v1.0h-1.0zM98.6 450.5h1.0v1.0h-1.0zM116.9 445.6h1.0v1.0h-1.0zM76.9 441.2h1.0v1.0h-1.0zM106.4 451.4h1.0v1.0h-1.0zM114.7 447.5h1.0v1.0h-1.0zM106.4 451.5h1.0v1.0h-1.0zM89.0 451.7h1.0v1.0h-1.0zM102.3 451.8h1.0v1.0h-1.0zM119.7 445.6h1.0v1.0h-1.0zM96.4 447.2h1.0v1.0h-1.0zM110.5 455.2h1.0v1.0h-1.0zM106.3 452.5h1.0v1.0h-1.0zM108.6 447.9h1.0v1.0h-1.0zM88.9 446.6h1.0v1.0h-1.0zM94.1 451.9h1.0v1.0h-1.0zM93.4 448.1h1.0v1.0h-1.0zM97.3 447.2h1.0v1.0h-1.0zM91.7 448.8h1.0v1.0h-1.0zM96.7 453.2h1.0v1.0h-1.0zM113.4 450.2h1.0v1.0h-1.0zM94.3 451.4h1.0v1.0h-1.0zM108.2 452.0h1.0v1.0h-1.0zM123.1 456.1h1.0v1.0h-1.0zM83.6 444.9h1.0v1.0h-1.0z" fill="rgb(80,0,0)"/>
<path d="M99.2 446.9h1.0v1.0h-1.0zM88.8 449.1h1.0v1.0h-1.0zM101.4 446.7h1.0v1.0h-1.0zM86.8 448.1h1.0v1.0h-1.0zM94.0 450.7h1.0v1.0h-1.0zM89.0 447.6h1.0v1.0h-1.0zM72.0 453.4h1.0v1.0h-1.0zM82.2 447.5h1.0v1.0h-1.0zM91.9 451.4h1.0v1.0h-1.0zM101.9 449.0h1.0v1.0h-1.0zM97.3 453.8h1.0v1.0h-1.0zM87.1 447.4h1.0v1.0h-1.0zM120.0 446.6h1.0v1.0h-1.0z" fill="rgb(71,0,0)"/>
<path d="M66.7 424.3h1.0v1.0h-1.0zM94.5 439.4h1.0v1.0h-1.0zM83.7 435.5h1.0v1.0h-1.0zM101.5 429.7h1.0v1.0h-1.0zM123.9 434.0h1.0v1.0h-1.0zM91.6 442.1h1.0v1.0h-1.0zM98.2 414.8h1.0v1.0h-1.0zM91.7 413.5h1.0v1.0h-1.0zM87.8 426.8h1.0v1.0h-1.0zM64.5 429.4h1.0v1.0h-1.0zM80.3 430.8h1.0v1.0h-1.0zM112.5 413.6h1.0v1.0h-1.0zM108.8 438.1h1.0v1.0h-1.0zM110.8 444.1h1.0v1.0h-1.0zM106.8 451.1h1.0v1.0h-1.0zM133.3 420.0h1.0v1.0h-1.0zM113.4 444.0h1.0v1.0h-1.0zM95.0 428.1h1.0v1.0h-1.0zM123.5 435.2h1.0v1.0h-1.0zM136.5 435.7h1.0v1.0h-1.0zM87.9 427.5h1.0v1.0h-1.0zM94.9 452.3h1.0v1.0h-1.0zM83.3 422.7h1.0v1.0h-1.0zM92.8 427.1h1.0v1.0h-1.0zM94.0 428.7h1.0v1.0h-1.0zM74.3 435.2h1.0v1.0h-1.0zM101.3 435.6h1.0v1.0h-1.0zM83.9 430.0h1.0v1.0h-1.0zM64.0 448.2h1.0v1.0h-1.0zM109.7 427.8h1.0v1.0h-1.0zM77.2 423.4h1.0v1.0h-1.0zM64.8 448.0h1.0v1.0h-1.0zM88.7 438.9h1.0v1.0h-1.0zM106.8 409.1h1.0v1.0h-1.0zM109.6 445.2h1.0v1.0h-1.0zM102.7 432.4h1.0v1.0h-1.0zM89.4 425.1h1.0v1.0h-1.0zM122.2 428.4h1.0v1.0h-1.0zM75.5 417.1h1.0v1.0h-1.0zM117.4 435.4h1.0v1.0h-1.0zM101.6 435.3h1.0v1.0h-1.0zM59.1 442.9h1.0v1.0h-1.0zM106.2 438.6h1.0v1.0h-1.0zM86.1 430.7h1.0v1.0h-1.0zM61.8 430.3h1.0v1.0h-1.0zM112.1 439.3h1.0v1.0h-1.0z" fill="rgb(80,0,0)"/>
<path d="M86.8 435.3h1.0v1.0h-1.0zM103.9 431.2h1.0v1.0h-1.0zM77.7 431.2h1.0v1.0h-1.0zM104.6 427.9h1.0v1.0h-1.0zM108.0 451.2h1.0v1.0h-1.0zM70.7 419.8h1.0v1.0h-1.0zM101.0 446.6h1.0v1.0h-1.0zM96.7 435.9h1.0v1.0h-1.0zM119.2 435.9h1.0v1.0h-1.0zM93.7 431.4h1.0v1.0h-1.0zM100.9 410.2h1.0v1.0h-1.0zM112.9 428.3h1.0v1.0h-1.0zM131.3 435.1h1.0v1.0h-1.0zM96.0 434.0h1.0v1.0h-1.0zM107.6 443.5h1.0v1.0h-1.0zM88.4 411.3h1.0v1.0h-1.0zM98.1 429.0h1.0v1.0h-1.0zM95.1 443.5h1.0v1.0h-1.0zM110.5 436.9h1.0v1.0h-1.0zM114.5 424.4h1.0v1.0h-1.0zM59.9 425.4h1.0v1.0h-1.0zM110.6 442.1h1.0v1.0h-1.0zM100.5 429.3h1.0v1.0h-1.0zM83.7 427.9h1.0v1.0h-1.0z" fill="rgb(71,0,0)"/>
<path d="M66.0 389.5h1.0v1.0h-1.0zM74.9 396.5h1.0v1.0h-1.0zM76.0 390.4h1.0v1.0h-1.0zM66.9 392.5h1.0v1.0h-1.0zM70.1 393.7h1.0v1.0h-1.0zM77.9 391.4h1.0v1.0h-1.0zM79.7 398.3h1.0v1.0h-1.0zM65.5 390.8h1.0v1.0h-1.0z" fill="rgb(71,0,0)"/>
</g></g>
<path d="M57.3 386.5H152.8V458.1H57.3zM57.3 443.3H152.8" fill="none" stroke="#222" stroke-width="0.85"/>
<rect x="50.5" y="369.9" width="108.00" height="107.90" fill="none" stroke="#222" stroke-width="0.9"/>
<text transform="translate(50.80 491.50) scale(0.915 1)" font-size="7.7" text-anchor="middle" stroke="#111" stroke-width="0.2" >-600</text>
<text transform="translate(65.10 491.50) scale(0.915 1)" font-size="7.7" text-anchor="middle" stroke="#111" stroke-width="0.2" >-400</text>
<text transform="translate(79.40 491.50) scale(0.915 1)" font-size="7.7" text-anchor="middle" stroke="#111" stroke-width="0.2" >-200</text>
<text transform="translate(94.70 491.50) scale(0.915 1)" font-size="7.7" text-anchor="middle" stroke="#111" stroke-width="0.2" >0</text>
<text transform="translate(109.00 491.50) scale(0.915 1)" font-size="7.7" text-anchor="middle" stroke="#111" stroke-width="0.2" >200</text>
<text transform="translate(123.30 491.50) scale(0.915 1)" font-size="7.7" text-anchor="middle" stroke="#111" stroke-width="0.2" >400</text>
<text transform="translate(137.60 491.50) scale(0.915 1)" font-size="7.7" text-anchor="middle" stroke="#111" stroke-width="0.2" >600</text>
<text transform="translate(151.90 491.50) scale(0.915 1)" font-size="7.7" text-anchor="middle" stroke="#111" stroke-width="0.2" >800</text>
<text transform="translate(46.20 373.40) scale(0.915 1)" font-size="7.7" text-anchor="end" stroke="#111" stroke-width="0.2" >800</text>
<text transform="translate(46.20 388.81) scale(0.915 1)" font-size="7.7" text-anchor="end" stroke="#111" stroke-width="0.2" >600</text>
<text transform="translate(46.20 404.23) scale(0.915 1)" font-size="7.7" text-anchor="end" stroke="#111" stroke-width="0.2" >400</text>
<text transform="translate(46.20 419.64) scale(0.915 1)" font-size="7.7" text-anchor="end" stroke="#111" stroke-width="0.2" >200</text>
<text transform="translate(46.20 435.06) scale(0.915 1)" font-size="7.7" text-anchor="end" stroke="#111" stroke-width="0.2" >0</text>
<text transform="translate(46.20 450.47) scale(0.915 1)" font-size="7.7" text-anchor="end" stroke="#111" stroke-width="0.2" >-200</text>
<text transform="translate(46.20 465.89) scale(0.915 1)" font-size="7.7" text-anchor="end" stroke="#111" stroke-width="0.2" >-400</text>
<text transform="translate(46.20 481.30) scale(0.915 1)" font-size="7.7" text-anchor="end" stroke="#111" stroke-width="0.2" >-600</text>
<path d="M65.00 477.8v-2.2M65.00 369.9v2.2M79.30 477.8v-2.2M79.30 369.9v2.2M93.60 477.8v-2.2M93.60 369.9v2.2M107.90 477.8v-2.2M107.90 369.9v2.2M122.20 477.8v-2.2M122.20 369.9v2.2M136.50 477.8v-2.2M136.50 369.9v2.2M150.80 477.8v-2.2M150.80 369.9v2.2M50.5 385.31h2.2M158.5 385.31h-2.2M50.5 400.73h2.2M158.5 400.73h-2.2M50.5 416.14h2.2M158.5 416.14h-2.2M50.5 431.56h2.2M158.5 431.56h-2.2M50.5 446.97h2.2M158.5 446.97h-2.2M50.5 462.39h2.2M158.5 462.39h-2.2" stroke="#222" stroke-width="0.8" fill="none"/>
<text transform="translate(104.50 502.20) scale(0.915 1)" font-size="7.7" text-anchor="middle" stroke="#111" stroke-width="0.2" >Z/cm</text>
<text transform="translate(23.10 423.85) rotate(-90) scale(0.915 1)" font-size="7.7" text-anchor="middle" stroke="#111" stroke-width="0.2">Y/cm</text>
</g>
<g id="pf">
<clipPath id="cf"><rect x="258" y="386.8" width="95.2" height="71.1"/></clipPath>
<g clip-path="url(#cf)"><g filter="url(#sf)">
<rect x="251" y="369" width="109.00" height="111.00" fill="rgb(0,0,0)" />
<g filter="url(#b3)">
<ellipse cx="308" cy="428" rx="34" ry="22" fill="rgb(0,51,0)" />
</g>
<g filter="url(#b1)">
<ellipse cx="300" cy="433" rx="15" ry="9" fill="rgb(40,20,0)" />
<ellipse cx="324.5" cy="432.5" rx="13" ry="12" fill="rgb(44,17,0)" />
<ellipse cx="324.6" cy="432.5" rx="9.6" ry="10" fill="rgb(48,23,0)" />
<ellipse cx="325.6" cy="432.5" rx="5.6" ry="8" fill="rgb(59,23,0)" />
</g>
<path d="M340.1 405.7h1.0v1.0h-1.0zM330.5 401.8h1.0v1.0h-1.0zM315.5 414.7h1.0v1.0h-1.0zM307.5 447.7h1.0v1.0h-1.0zM327.2 398.4h1.0v1.0h-1.0zM350.0 437.1h1.0v1.0h-1.0zM298.5 436.4h1.0v1.0h-1.0zM321.8 432.9h1.0v1.0h-1.0zM285.2 433.9h1.0v1.0h-1.0zM274.5 448.8h1.0v1.0h-1.0zM337.7 438.1h1.0v1.0h-1.0zM308.4 431.5h1.0v1.0h-1.0zM295.3 411.4h1.0v1.0h-1.0zM313.3 397.0h1.0v1.0h-1.0zM290.1 448.4h1.0v1.0h-1.0zM341.2 456.0h1.0v1.0h-1.0zM288.0 427.5h1.0v1.0h-1.0zM296.1 415.3h1.0v1.0h-1.0zM301.8 391.7h1.0v1.0h-1.0zM308.3 397.7h1.0v1.0h-1.0zM306.1 435.1h1.0v1.0h-1.0zM297.1 443.2h1.0v1.0h-1.0zM323.2 441.8h1.0v1.0h-1.0zM276.4 412.6h1.0v1.0h-1.0zM335.3 425.9h1.0v1.0h-1.0zM320.0 411.1h1.0v1.0h-1.0zM340.9 419.6h1.0v1.0h-1.0zM308.2 446.5h1.0v1.0h-1.0zM306.4 403.8h1.0v1.0h-1.0zM266.4 429.4h1.0v1.0h-1.0zM262.0 391.2h1.0v1.0h-1.0zM343.5 418.0h1.0v1.0h-1.0zM313.8 436.4h1.0v1.0h-1.0zM276.8 443.3h1.0v1.0h-1.0zM339.4 451.9h1.0v1.0h-1.0zM312.7 419.0h1.0v1.0h-1.0zM274.1 426.3h1.0v1.0h-1.0zM335.1 432.7h1.0v1.0h-1.0zM319.5 437.6h1.0v1.0h-1.0zM274.0 407.2h1.0v1.0h-1.0zM276.2 409.1h1.0v1.0h-1.0zM338.3 455.4h1.0v1.0h-1.0zM265.9 407.2h1.0v1.0h-1.0zM265.0 454.3h1.0v1.0h-1.0zM263.0 450.0h1.0v1.0h-1.0zM276.6 415.4h1.0v1.0h-1.0zM291.2 435.3h1.0v1.0h-1.0zM299.0 453.1h1.0v1.0h-1.0zM295.9 422.8h1.0v1.0h-1.0zM282.3 393.4h1.0v1.0h-1.0zM291.7 401.6h1.0v1.0h-1.0zM269.3 409.3h1.0v1.0h-1.0zM310.9 422.8h1.0v1.0h-1.0zM294.9 456.2h1.0v1.0h-1.0zM287.8 423.4h1.0v1.0h-1.0zM281.5 421.8h1.0v1.0h-1.0zM314.6 420.9h1.0v1.0h-1.0zM309.1 418.5h1.0v1.0h-1.0zM272.3 442.0h1.0v1.0h-1.0zM263.6 439.8h1.0v1.0h-1.0zM289.0 417.5h1.0v1.0h-1.0zM323.5 443.8h1.0v1.0h-1.0zM289.9 436.1h1.0v1.0h-1.0zM267.1 453.1h1.0v1.0h-1.0zM278.4 439.9h1.0v1.0h-1.0zM330.7 451.0h1.0v1.0h-1.0zM345.3 403.0h1.0v1.0h-1.0zM322.2 436.1h1.0v1.0h-1.0z" fill="rgb(52,0,0)"/>
<path d="M334.9 426.2h1.0v1.0h-1.0zM298.2 398.0h1.0v1.0h-1.0zM329.9 430.8h1.0v1.0h-1.0zM339.5 432.3h1.0v1.0h-1.0zM326.1 410.9h1.0v1.0h-1.0zM261.6 441.7h1.0v1.0h-1.0zM333.3 420.6h1.0v1.0h-1.0zM347.3 404.9h1.0v1.0h-1.0zM265.3 429.4h1.0v1.0h-1.0zM307.6 426.2h1.0v1.0h-1.0zM340.2 456.6h1.0v1.0h-1.0zM318.3 393.9h1.0v1.0h-1.0zM263.6 396.2h1.0v1.0h-1.0zM292.4 421.6h1.0v1.0h-1.0zM262.8 406.0h1.0v1.0h-1.0zM313.4 456.3h1.0v1.0h-1.0zM289.3 452.1h1.0v1.0h-1.0zM288.3 432.0h1.0v1.0h-1.0zM349.2 395.6h1.0v1.0h-1.0zM321.7 430.8h1.0v1.0h-1.0zM288.8 450.5h1.0v1.0h-1.0zM261.7 451.0h1.0v1.0h-1.0zM311.5 398.8h1.0v1.0h-1.0zM275.3 415.0h1.0v1.0h-1.0zM309.8 409.4h1.0v1.0h-1.0zM281.4 399.6h1.0v1.0h-1.0zM286.4 418.4h1.0v1.0h-1.0z" fill="rgb(62,0,0)"/>
<path d="M320.3 400.9h1.0v1.0h-1.0zM307.0 411.0h1.0v1.0h-1.0zM315.3 408.1h1.0v1.0h-1.0zM315.9 389.4h1.0v1.0h-1.0zM316.8 391.9h1.0v1.0h-1.0zM312.7 398.2h1.0v1.0h-1.0zM335.3 396.6h1.0v1.0h-1.0zM317.7 402.3h1.0v1.0h-1.0zM317.1 404.3h1.0v1.0h-1.0zM314.8 400.4h1.0v1.0h-1.0zM325.1 419.2h1.0v1.0h-1.0zM329.6 397.7h1.0v1.0h-1.0zM301.1 410.2h1.0v1.0h-1.0zM306.9 404.6h1.0v1.0h-1.0zM308.1 395.7h1.0v1.0h-1.0zM314.1 397.1h1.0v1.0h-1.0zM288.3 400.6h1.0v1.0h-1.0zM309.6 402.3h1.0v1.0h-1.0zM325.6 392.9h1.0v1.0h-1.0zM285.1 395.9h1.0v1.0h-1.0zM318.9 408.2h1.0v1.0h-1.0zM323.9 408.4h1.0v1.0h-1.0zM321.4 408.6h1.0v1.0h-1.0zM318.7 407.9h1.0v1.0h-1.0zM315.5 398.0h1.0v1.0h-1.0zM311.5 407.4h1.0v1.0h-1.0zM318.5 397.1h1.0v1.0h-1.0zM333.0 402.7h1.0v1.0h-1.0zM327.8 404.4h1.0v1.0h-1.0zM326.6 406.4h1.0v1.0h-1.0zM325.5 409.4h1.0v1.0h-1.0zM312.9 405.7h1.0v1.0h-1.0zM335.9 408.4h1.0v1.0h-1.0zM332.5 399.5h1.0v1.0h-1.0zM312.7 408.8h1.0v1.0h-1.0zM306.8 393.1h1.0v1.0h-1.0zM312.3 397.0h1.0v1.0h-1.0zM337.0 408.3h1.0v1.0h-1.0zM315.6 406.9h1.0v1.0h-1.0zM290.7 399.3h1.0v1.0h-1.0z" fill="rgb(80,0,0)"/>
<path d="M314.9 396.3h1.0v1.0h-1.0zM303.3 408.2h1.0v1.0h-1.0zM321.5 408.4h1.0v1.0h-1.0zM299.3 396.6h1.0v1.0h-1.0zM316.5 400.0h1.0v1.0h-1.0zM316.9 405.4h1.0v1.0h-1.0zM312.1 393.5h1.0v1.0h-1.0zM328.5 410.0h1.0v1.0h-1.0zM313.5 399.1h1.0v1.0h-1.0zM338.4 420.4h1.0v1.0h-1.0zM321.1 398.6h1.0v1.0h-1.0zM332.0 404.5h1.0v1.0h-1.0zM312.3 400.5h1.0v1.0h-1.0z" fill="rgb(71,0,0)"/>
<path d="M330.2 453.5h1.0v1.0h-1.0zM324.7 447.2h1.0v1.0h-1.0zM321.6 447.6h1.0v1.0h-1.0zM319.9 451.9h1.0v1.0h-1.0zM327.4 447.8h1.0v1.0h-1.0zM347.5 444.2h1.0v1.0h-1.0zM337.0 446.0h1.0v1.0h-1.0zM316.4 451.5h1.0v1.0h-1.0zM318.3 447.3h1.0v1.0h-1.0zM323.6 448.1h1.0v1.0h-1.0zM321.0 447.5h1.0v1.0h-1.0zM329.1 447.1h1.0v1.0h-1.0zM331.5 445.9h1.0v1.0h-1.0zM326.4 450.3h1.0v1.0h-1.0zM318.8 449.3h1.0v1.0h-1.0zM325.7 449.6h1.0v1.0h-1.0zM328.0 448.6h1.0v1.0h-1.0zM322.7 450.9h1.0v1.0h-1.0zM318.0 448.7h1.0v1.0h-1.0zM337.9 448.5h1.0v1.0h-1.0zM321.3 446.3h1.0v1.0h-1.0zM319.2 448.4h1.0v1.0h-1.0zM316.4 450.0h1.0v1.0h-1.0zM324.4 445.5h1.0v1.0h-1.0zM330.3 448.6h1.0v1.0h-1.0zM319.5 448.5h1.0v1.0h-1.0zM327.2 456.3h1.0v1.0h-1.0zM322.2 449.1h1.0v1.0h-1.0z" fill="rgb(80,0,0)"/>
<path d="M332.5 450.4h1.0v1.0h-1.0zM324.9 449.3h1.0v1.0h-1.0zM335.8 449.6h1.0v1.0h-1.0zM340.1 448.4h1.0v1.0h-1.0zM334.5 451.8h1.0v1.0h-1.0zM329.9 447.1h1.0v1.0h-1.0zM328.8 449.8h1.0v1.0h-1.0zM321.9 447.4h1.0v1.0h-1.0zM322.7 448.1h1.0v1.0h-1.0zM324.9 452.5h1.0v1.0h-1.0zM317.8 450.3h1.0v1.0h-1.0zM330.5 451.5h1.0v1.0h-1.0z" fill="rgb(71,0,0)"/>
<path d="M314.3 426.6h1.0v1.0h-1.0zM330.8 436.8h1.0v1.0h-1.0zM314.3 418.5h1.0v1.0h-1.0zM324.7 430.7h1.0v1.0h-1.0zM326.0 429.3h1.0v1.0h-1.0zM325.3 440.5h1.0v1.0h-1.0zM314.2 438.0h1.0v1.0h-1.0zM333.1 448.0h1.0v1.0h-1.0zM319.5 419.7h1.0v1.0h-1.0zM330.3 426.0h1.0v1.0h-1.0zM318.7 425.1h1.0v1.0h-1.0zM327.7 447.4h1.0v1.0h-1.0zM325.1 449.4h1.0v1.0h-1.0zM328.2 434.3h1.0v1.0h-1.0zM320.3 433.0h1.0v1.0h-1.0z" fill="rgb(71,0,0)"/>
<path d="M316.0 429.0h1.0v1.0h-1.0zM334.1 442.0h1.0v1.0h-1.0zM309.9 427.2h1.0v1.0h-1.0zM315.4 427.7h1.0v1.0h-1.0zM319.2 440.9h1.0v1.0h-1.0zM325.5 440.7h1.0v1.0h-1.0zM320.5 413.9h1.0v1.0h-1.0zM322.1 444.9h1.0v1.0h-1.0zM327.2 431.1h1.0v1.0h-1.0zM312.6 426.1h1.0v1.0h-1.0zM329.9 444.5h1.0v1.0h-1.0zM328.3 420.7h1.0v1.0h-1.0zM326.4 429.4h1.0v1.0h-1.0zM317.7 432.2h1.0v1.0h-1.0zM321.6 439.0h1.0v1.0h-1.0zM315.1 438.2h1.0v1.0h-1.0zM333.3 442.2h1.0v1.0h-1.0zM325.3 426.7h1.0v1.0h-1.0zM330.5 433.6h1.0v1.0h-1.0zM318.1 433.7h1.0v1.0h-1.0zM325.5 431.0h1.0v1.0h-1.0zM319.7 438.7h1.0v1.0h-1.0zM322.7 424.8h1.0v1.0h-1.0zM330.8 425.1h1.0v1.0h-1.0zM320.3 440.5h1.0v1.0h-1.0zM331.3 426.4h1.0v1.0h-1.0zM317.3 435.1h1.0v1.0h-1.0zM329.8 430.3h1.0v1.0h-1.0zM320.2 429.6h1.0v1.0h-1.0zM328.7 439.2h1.0v1.0h-1.0z" fill="rgb(80,0,0)"/>
</g></g>
<path d="M257.8 386.5H353.6V458.1H257.8zM257.8 443.3H353.6" fill="none" stroke="#222" stroke-width="0.85"/>
<rect x="251.5" y="369.9" width="107.40" height="107.90" fill="none" stroke="#222" stroke-width="0.9"/>
<text transform="translate(254.80 491.50) scale(0.915 1)" font-size="7.7" text-anchor="middle" stroke="#111" stroke-width="0.2" >-800</text>
<text transform="translate(268.75 491.50) scale(0.915 1)" font-size="7.7" text-anchor="middle" stroke="#111" stroke-width="0.2" >-600</text>
<text transform="translate(282.70 491.50) scale(0.915 1)" font-size="7.7" text-anchor="middle" stroke="#111" stroke-width="0.2" >-400</text>
<text transform="translate(296.65 491.50) scale(0.915 1)" font-size="7.7" text-anchor="middle" stroke="#111" stroke-width="0.2" >-200</text>
<text transform="translate(311.60 491.50) scale(0.915 1)" font-size="7.7" text-anchor="middle" stroke="#111" stroke-width="0.2" >0</text>
<text transform="translate(325.55 491.50) scale(0.915 1)" font-size="7.7" text-anchor="middle" stroke="#111" stroke-width="0.2" >200</text>
<text transform="translate(339.50 491.50) scale(0.915 1)" font-size="7.7" text-anchor="middle" stroke="#111" stroke-width="0.2" >400</text>
<text transform="translate(353.45 491.50) scale(0.915 1)" font-size="7.7" text-anchor="middle" stroke="#111" stroke-width="0.2" >600</text>
<text transform="translate(247.20 373.40) scale(0.915 1)" font-size="7.7" text-anchor="end" stroke="#111" stroke-width="0.2" >800</text>
<text transform="translate(247.20 388.81) scale(0.915 1)" font-size="7.7" text-anchor="end" stroke="#111" stroke-width="0.2" >600</text>
<text transform="translate(247.20 404.23) scale(0.915 1)" font-size="7.7" text-anchor="end" stroke="#111" stroke-width="0.2" >400</text>
<text transform="translate(247.20 419.64) scale(0.915 1)" font-size="7.7" text-anchor="end" stroke="#111" stroke-width="0.2" >200</text>
<text transform="translate(247.20 435.06) scale(0.915 1)" font-size="7.7" text-anchor="end" stroke="#111" stroke-width="0.2" >0</text>
<text transform="translate(247.20 450.47) scale(0.915 1)" font-size="7.7" text-anchor="end" stroke="#111" stroke-width="0.2" >-200</text>
<text transform="translate(247.20 465.89) scale(0.915 1)" font-size="7.7" text-anchor="end" stroke="#111" stroke-width="0.2" >-400</text>
<text transform="translate(247.20 481.30) scale(0.915 1)" font-size="7.7" text-anchor="end" stroke="#111" stroke-width="0.2" >-600</text>
<path d="M254.70 477.8v-2.2M254.70 369.9v2.2M268.65 477.8v-2.2M268.65 369.9v2.2M282.60 477.8v-2.2M282.60 369.9v2.2M296.55 477.8v-2.2M296.55 369.9v2.2M310.50 477.8v-2.2M310.50 369.9v2.2M324.45 477.8v-2.2M324.45 369.9v2.2M338.40 477.8v-2.2M338.40 369.9v2.2M352.35 477.8v-2.2M352.35 369.9v2.2M251.5 385.31h2.2M358.9 385.31h-2.2M251.5 400.73h2.2M358.9 400.73h-2.2M251.5 416.14h2.2M358.9 416.14h-2.2M251.5 431.56h2.2M358.9 431.56h-2.2M251.5 446.97h2.2M358.9 446.97h-2.2M251.5 462.39h2.2M358.9 462.39h-2.2" stroke="#222" stroke-width="0.8" fill="none"/>
<text transform="translate(305.20 502.20) scale(0.915 1)" font-size="7.7" text-anchor="middle" stroke="#111" stroke-width="0.2" >X/cm</text>
<text transform="translate(224.10 423.85) rotate(-90) scale(0.915 1)" font-size="7.7" text-anchor="middle" stroke="#111" stroke-width="0.2">Y/cm</text>
</g>
<g filter="url(#b04)">
<rect x="90.60" y="520.2" width="9.00" height="9.60" fill="#ffffff"/>
<rect x="99.45" y="520.2" width="9.74" height="9.60" fill="#d9d9d9"/>
<rect x="109.05" y="520.2" width="0.70" height="9.60" fill="#6a2a6a"/>
<rect x="109.60" y="520.2" width="4.76" height="9.60" fill="#dcc4dc"/>
<rect x="114.21" y="520.2" width="0.98" height="9.60" fill="#6a2a6a"/>
<rect x="115.04" y="520.2" width="2.64" height="9.60" fill="#e8aee8"/>
<rect x="117.53" y="520.2" width="0.98" height="9.60" fill="#6a2a6a"/>
<rect x="118.36" y="520.2" width="1.53" height="9.60" fill="#e69ae6"/>
<rect x="119.74" y="520.2" width="0.98" height="9.60" fill="#6a2a6a"/>
<rect x="120.57" y="520.2" width="1.16" height="9.60" fill="#dc8edc"/>
<rect x="121.59" y="520.2" width="0.98" height="9.60" fill="#6a2a6a"/>
<rect x="122.42" y="520.2" width="0.80" height="9.60" fill="#d080d0"/>
<rect x="123.07" y="520.2" width="0.98" height="9.60" fill="#6a2a6a"/>
<rect x="123.90" y="520.2" width="0.61" height="9.60" fill="#b868b8"/>
<rect x="124.36" y="520.2" width="0.98" height="9.60" fill="#6a2a6a"/>
<rect x="125.19" y="520.2" width="0.24" height="9.60" fill="#a058a0"/>
<rect x="125.28" y="520.2" width="0.98" height="9.60" fill="#6a2a6a"/>
<rect x="126.11" y="520.2" width="0.24" height="9.60" fill="#8a488a"/>
<rect x="126.20" y="520.2" width="0.98" height="9.60" fill="#6a2a6a"/>
<rect x="127.03" y="520.2" width="0.61" height="9.60" fill="#703870"/>
<rect x="127.49" y="520.2" width="5.68" height="9.60" fill="#ff58ff"/>
<rect x="133.03" y="520.2" width="5.68" height="9.60" fill="#ee22f6"/>
<rect x="138.56" y="520.2" width="7.53" height="9.60" fill="#c400f4"/>
<rect x="145.94" y="520.2" width="0.70" height="9.60" fill="#300050"/>
<rect x="146.49" y="520.2" width="4.76" height="9.60" fill="#9a00e8"/>
<rect x="151.10" y="520.2" width="0.98" height="9.60" fill="#300050"/>
<rect x="151.93" y="520.2" width="2.64" height="9.60" fill="#8a00d8"/>
<rect x="154.42" y="520.2" width="0.98" height="9.60" fill="#300050"/>
<rect x="155.25" y="520.2" width="1.53" height="9.60" fill="#7a00c8"/>
<rect x="156.64" y="520.2" width="0.98" height="9.60" fill="#300050"/>
<rect x="157.47" y="520.2" width="1.16" height="9.60" fill="#6a00b8"/>
<rect x="158.48" y="520.2" width="0.98" height="9.60" fill="#300050"/>
<rect x="159.31" y="520.2" width="0.80" height="9.60" fill="#5a00a0"/>
<rect x="159.96" y="520.2" width="0.98" height="9.60" fill="#300050"/>
<rect x="160.79" y="520.2" width="0.61" height="9.60" fill="#500090"/>
<rect x="161.25" y="520.2" width="0.98" height="9.60" fill="#300050"/>
<rect x="162.08" y="520.2" width="0.24" height="9.60" fill="#480080"/>
<rect x="162.17" y="520.2" width="0.98" height="9.60" fill="#300050"/>
<rect x="163.00" y="520.2" width="0.24" height="9.60" fill="#400070"/>
<rect x="163.09" y="520.2" width="0.98" height="9.60" fill="#300050"/>
<rect x="163.92" y="520.2" width="0.61" height="9.60" fill="#380060"/>
<rect x="164.38" y="520.2" width="5.68" height="9.60" fill="#2a10e0"/>
<rect x="169.92" y="520.2" width="5.68" height="9.60" fill="#1408f4"/>
<rect x="175.45" y="520.2" width="7.53" height="9.60" fill="#0a20ff"/>
<rect x="182.83" y="520.2" width="0.70" height="9.60" fill="#043058"/>
<rect x="183.38" y="520.2" width="4.76" height="9.60" fill="#0a48f0"/>
<rect x="188.00" y="520.2" width="0.98" height="9.60" fill="#043058"/>
<rect x="188.83" y="520.2" width="2.64" height="9.60" fill="#0868f8"/>
<rect x="191.32" y="520.2" width="0.98" height="9.60" fill="#043058"/>
<rect x="192.15" y="520.2" width="1.53" height="9.60" fill="#0880f8"/>
<rect x="193.53" y="520.2" width="0.98" height="9.60" fill="#043058"/>
<rect x="194.36" y="520.2" width="1.16" height="9.60" fill="#0890f0"/>
<rect x="195.37" y="520.2" width="0.98" height="9.60" fill="#043058"/>
<rect x="196.20" y="520.2" width="0.80" height="9.60" fill="#08a0e8"/>
<rect x="196.85" y="520.2" width="0.98" height="9.60" fill="#043058"/>
<rect x="197.68" y="520.2" width="0.61" height="9.60" fill="#0898d8"/>
<rect x="198.14" y="520.2" width="0.98" height="9.60" fill="#043058"/>
<rect x="198.97" y="520.2" width="0.24" height="9.60" fill="#0888c0"/>
<rect x="199.06" y="520.2" width="0.98" height="9.60" fill="#043058"/>
<rect x="199.89" y="520.2" width="0.24" height="9.60" fill="#0878a8"/>
<rect x="199.99" y="520.2" width="0.98" height="9.60" fill="#043058"/>
<rect x="200.82" y="520.2" width="0.61" height="9.60" fill="#086890"/>
<rect x="201.28" y="520.2" width="5.68" height="9.60" fill="#08c8d8"/>
<rect x="206.81" y="520.2" width="5.68" height="9.60" fill="#06c0b0"/>
<rect x="212.34" y="520.2" width="7.53" height="9.60" fill="#08c060"/>
<rect x="219.72" y="520.2" width="0.70" height="9.60" fill="#1c5010"/>
<rect x="220.28" y="520.2" width="4.76" height="9.60" fill="#28e030"/>
<rect x="224.89" y="520.2" width="0.98" height="9.60" fill="#1c5010"/>
<rect x="225.72" y="520.2" width="2.64" height="9.60" fill="#40e828"/>
<rect x="228.21" y="520.2" width="0.98" height="9.60" fill="#1c5010"/>
<rect x="229.04" y="520.2" width="1.53" height="9.60" fill="#58e820"/>
<rect x="230.42" y="520.2" width="0.98" height="9.60" fill="#1c5010"/>
<rect x="231.25" y="520.2" width="1.16" height="9.60" fill="#70e020"/>
<rect x="232.27" y="520.2" width="0.98" height="9.60" fill="#1c5010"/>
<rect x="233.10" y="520.2" width="0.80" height="9.60" fill="#80d820"/>
<rect x="233.74" y="520.2" width="0.98" height="9.60" fill="#1c5010"/>
<rect x="234.57" y="520.2" width="0.61" height="9.60" fill="#78c018"/>
<rect x="235.03" y="520.2" width="0.98" height="9.60" fill="#1c5010"/>
<rect x="235.86" y="520.2" width="0.24" height="9.60" fill="#70a818"/>
<rect x="235.96" y="520.2" width="0.98" height="9.60" fill="#1c5010"/>
<rect x="236.79" y="520.2" width="0.24" height="9.60" fill="#609010"/>
<rect x="236.88" y="520.2" width="0.98" height="9.60" fill="#1c5010"/>
<rect x="237.71" y="520.2" width="0.61" height="9.60" fill="#507810"/>
<rect x="238.17" y="520.2" width="5.68" height="9.60" fill="#b8f028"/>
<rect x="243.70" y="520.2" width="5.68" height="9.60" fill="#d8f420"/>
<rect x="249.24" y="520.2" width="7.53" height="9.60" fill="#f8f418"/>
<rect x="256.62" y="520.2" width="0.70" height="9.60" fill="#5a3408"/>
<rect x="257.17" y="520.2" width="4.76" height="9.60" fill="#ffd010"/>
<rect x="261.78" y="520.2" width="0.98" height="9.60" fill="#5a3408"/>
<rect x="262.61" y="520.2" width="2.64" height="9.60" fill="#ffc010"/>
<rect x="265.10" y="520.2" width="0.98" height="9.60" fill="#5a3408"/>
<rect x="265.93" y="520.2" width="1.53" height="9.60" fill="#f8a810"/>
<rect x="267.31" y="520.2" width="0.98" height="9.60" fill="#5a3408"/>
<rect x="268.14" y="520.2" width="1.16" height="9.60" fill="#e89810"/>
<rect x="269.16" y="520.2" width="0.98" height="9.60" fill="#5a3408"/>
<rect x="269.99" y="520.2" width="0.80" height="9.60" fill="#d88810"/>
<rect x="270.63" y="520.2" width="0.98" height="9.60" fill="#5a3408"/>
<rect x="271.46" y="520.2" width="0.61" height="9.60" fill="#c07810"/>
<rect x="271.93" y="520.2" width="0.98" height="9.60" fill="#5a3408"/>
<rect x="272.76" y="520.2" width="0.24" height="9.60" fill="#a86810"/>
<rect x="272.85" y="520.2" width="0.98" height="9.60" fill="#5a3408"/>
<rect x="273.68" y="520.2" width="0.24" height="9.60" fill="#905810"/>
<rect x="273.77" y="520.2" width="0.98" height="9.60" fill="#5a3408"/>
<rect x="274.60" y="520.2" width="0.61" height="9.60" fill="#784810"/>
<rect x="275.06" y="520.2" width="5.68" height="9.60" fill="#ff5a10"/>
<rect x="280.60" y="520.2" width="5.68" height="9.60" fill="#ff4010"/>
<rect x="286.13" y="520.2" width="7.53" height="9.60" fill="#ff2010"/>
<rect x="293.51" y="520.2" width="0.70" height="9.60" fill="#500404"/>
<rect x="294.06" y="520.2" width="4.76" height="9.60" fill="#f00808"/>
<rect x="298.67" y="520.2" width="0.98" height="9.60" fill="#500404"/>
<rect x="299.50" y="520.2" width="2.64" height="9.60" fill="#e80808"/>
<rect x="301.99" y="520.2" width="0.98" height="9.60" fill="#500404"/>
<rect x="302.82" y="520.2" width="1.53" height="9.60" fill="#d80808"/>
<rect x="304.21" y="520.2" width="0.98" height="9.60" fill="#500404"/>
<rect x="305.04" y="520.2" width="1.16" height="9.60" fill="#c80808"/>
<rect x="306.05" y="520.2" width="0.98" height="9.60" fill="#500404"/>
<rect x="306.88" y="520.2" width="0.80" height="9.60" fill="#b00808"/>
<rect x="307.53" y="520.2" width="0.98" height="9.60" fill="#500404"/>
<rect x="308.36" y="520.2" width="0.61" height="9.60" fill="#a00808"/>
<rect x="308.82" y="520.2" width="0.98" height="9.60" fill="#500404"/>
<rect x="309.65" y="520.2" width="0.24" height="9.60" fill="#900808"/>
<rect x="309.74" y="520.2" width="0.98" height="9.60" fill="#500404"/>
<rect x="310.57" y="520.2" width="0.24" height="9.60" fill="#800808"/>
<rect x="310.66" y="520.2" width="0.98" height="9.60" fill="#500404"/>
<rect x="311.49" y="520.2" width="0.61" height="9.60" fill="#700808"/>
<rect x="311.95" y="520.2" width="5.68" height="9.60" fill="#c40808"/>
<rect x="317.49" y="520.2" width="5.68" height="9.60" fill="#800606"/>
<rect x="323.02" y="520.2" width="7.53" height="9.60" fill="#100000"/>
</g>
<rect x="90.6" y="520.2" width="239.80" height="9.60" fill="none" stroke="#222" stroke-width="0.9"/>
<text x="90.50" y="545.8" font-size="11.1" text-anchor="middle" stroke="#111" stroke-width="0.25">10<tspan dy="-4" font-size="7.7">-2</tspan></text>
<text x="127.39" y="545.8" font-size="11.1" text-anchor="middle" stroke="#111" stroke-width="0.25">10<tspan dy="-4" font-size="7.7">0</tspan></text>
<text x="164.28" y="545.8" font-size="11.1" text-anchor="middle" stroke="#111" stroke-width="0.25">10<tspan dy="-4" font-size="7.7">2</tspan></text>
<text x="201.18" y="545.8" font-size="11.1" text-anchor="middle" stroke="#111" stroke-width="0.25">10<tspan dy="-4" font-size="7.7">4</tspan></text>
<text x="238.07" y="545.8" font-size="11.1" text-anchor="middle" stroke="#111" stroke-width="0.25">10<tspan dy="-4" font-size="7.7">6</tspan></text>
<text x="274.96" y="545.8" font-size="11.1" text-anchor="middle" stroke="#111" stroke-width="0.25">10<tspan dy="-4" font-size="7.7">8</tspan></text>
<text x="311.85" y="545.8" font-size="11.1" text-anchor="middle" stroke="#111" stroke-width="0.25">10<tspan dy="-4" font-size="7.7">10</tspan></text>
<text x="335.9" y="528.3" font-size="10.9" stroke="#111" stroke-width="0.25">μSv/h</text>
</svg></body></html>
